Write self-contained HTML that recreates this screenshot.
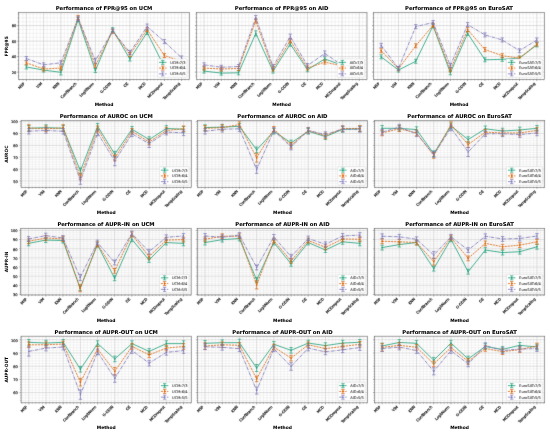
<!DOCTYPE html>
<html><head><meta charset="utf-8"><title>Performance</title><style>html,body{margin:0;padding:0;background:#fff;overflow:hidden}svg{display:block}</style></head><body>
<svg width="550" height="434" viewBox="0 0 550 434">
<style>text{font-family:"DejaVu Sans","Liberation Sans",sans-serif;fill:#111;stroke:#111;stroke-width:0.0px;text-rendering:geometricPrecision}.t{font-size:3.6px;fill:#1e1e1e;stroke:#1e1e1e;stroke-width:0.2px}.b{font-weight:bold;stroke-width:0.05px}.l{font-size:4.4px}.ti{font-size:5.3px}.mi{stroke:#e4e4e4;stroke-width:0.45;fill:none}.ma{stroke:#c8c8c8;stroke-width:0.6;fill:none}.sp{fill:none;stroke:#707070;stroke-width:0.65}.tk{stroke:#505050;stroke-width:0.5;fill:none}.mt{stroke:#505050;stroke-width:0.4;fill:none}.c0{stroke:#1b9e77}.c1{stroke:#d95f02}.c2{stroke:#7570b3}.f0{fill:#1b9e77}.f1{fill:#d95f02}.f2{fill:#7570b3}.ln{fill:none;stroke-width:0.8}.eb{fill:none;stroke-width:0.7}.d1{stroke-dasharray:2.1 0.9}.d2{stroke-dasharray:3.6 0.9 0.6 0.9}.tg text{fill:#000;stroke:#000;stroke-width:0.06px}.lt{font-size:3.62px;fill:#2a2a2a;stroke:#2a2a2a;stroke-width:0.07px}.lg{fill:#fff;fill-opacity:0.93;stroke:#d0d0d0;stroke-width:0.4}</style>
<filter id="bl" x="0" y="0" width="550" height="434" filterUnits="userSpaceOnUse" color-interpolation-filters="sRGB"><feConvolveMatrix order="3" kernelMatrix="0.015 0.06 0.015 0.06 0.7 0.06 0.015 0.06 0.015" edgeMode="duplicate" preserveAlpha="true"/></filter>
<g filter="url(#bl)">
<rect width="550" height="434" fill="#fff"/>
<path class="mi" d="M19.463 12.6V79.5M22.913 12.6V79.5M29.814 12.6V79.5M33.265 12.6V79.5M36.715 12.6V79.5M40.166 12.6V79.5M47.067 12.6V79.5M50.517 12.6V79.5M53.968 12.6V79.5M57.418 12.6V79.5M64.319 12.6V79.5M67.77 12.6V79.5M71.22 12.6V79.5M74.671 12.6V79.5M81.572 12.6V79.5M85.022 12.6V79.5M88.473 12.6V79.5M91.923 12.6V79.5M98.824 12.6V79.5M102.275 12.6V79.5M105.725 12.6V79.5M109.176 12.6V79.5M116.077 12.6V79.5M119.527 12.6V79.5M122.978 12.6V79.5M126.428 12.6V79.5M133.329 12.6V79.5M136.78 12.6V79.5M140.23 12.6V79.5M143.681 12.6V79.5M150.582 12.6V79.5M154.032 12.6V79.5M157.483 12.6V79.5M160.933 12.6V79.5M167.834 12.6V79.5M171.285 12.6V79.5M174.735 12.6V79.5M178.186 12.6V79.5M185.087 12.6V79.5M188.537 12.6V79.5M18.6 75.975H189.4M18.6 68.227H189.4M18.6 64.354H189.4M18.6 60.48H189.4M18.6 52.732H189.4M18.6 48.858H189.4M18.6 44.985H189.4M18.6 37.237H189.4M18.6 33.363H189.4M18.6 29.49H189.4M18.6 21.742H189.4M18.6 17.868H189.4M18.6 13.995H189.4"/>
<path class="ma" d="M26.364 12.6V79.5M43.616 12.6V79.5M60.869 12.6V79.5M78.121 12.6V79.5M95.374 12.6V79.5M112.626 12.6V79.5M129.879 12.6V79.5M147.131 12.6V79.5M164.384 12.6V79.5M181.636 12.6V79.5M18.6 72.101H189.4M18.6 56.606H189.4M18.6 41.111H189.4M18.6 25.616H189.4"/>
<path class="eb c0" d="M26.364 64.988V68.988M24.664 64.988h3.4M24.664 68.988h3.4M43.616 68.087V72.087M41.916 68.087h3.4M41.916 72.087h3.4M60.869 69.734V74.934M59.169 69.734h3.4M59.169 74.934h3.4M78.121 17.65V21.65M76.421 17.65h3.4M76.421 21.65h3.4M95.374 68.552V72.552M93.674 68.552h3.4M93.674 72.552h3.4M112.626 27.645V31.645M110.926 27.645h3.4M110.926 31.645h3.4M129.879 57.008V61.008M128.179 57.008h3.4M128.179 61.008h3.4M147.131 30.434V34.434M145.431 30.434h3.4M145.431 34.434h3.4M164.384 64.988V68.988M162.684 64.988h3.4M162.684 68.988h3.4M181.636 64.678V68.678M179.936 64.678h3.4M179.936 68.678h3.4"/>
<polyline class="ln c0" points="26.364,66.988 43.616,70.087 60.869,72.334 78.121,19.65 95.374,70.552 112.626,29.645 129.879,59.008 147.131,32.434 164.384,66.988 181.636,66.678"/>
<circle class="f0" cx="26.364" cy="66.988" r="0.8"/><circle class="f0" cx="43.616" cy="70.087" r="0.8"/><circle class="f0" cx="60.869" cy="72.334" r="0.8"/><circle class="f0" cx="78.121" cy="19.65" r="0.8"/><circle class="f0" cx="95.374" cy="70.552" r="0.8"/><circle class="f0" cx="112.626" cy="29.645" r="0.8"/><circle class="f0" cx="129.879" cy="59.008" r="0.8"/><circle class="f0" cx="147.131" cy="32.434" r="0.8"/><circle class="f0" cx="164.384" cy="66.988" r="0.8"/><circle class="f0" cx="181.636" cy="66.678" r="0.8"/>
<path class="eb c1" d="M26.364 60.804V64.804M24.664 60.804h3.4M24.664 64.804h3.4M43.616 67.002V71.002M41.916 67.002h3.4M41.916 71.002h3.4M60.869 66.072V70.072M59.169 66.072h3.4M59.169 70.072h3.4M78.121 15.558V19.558M76.421 15.558h3.4M76.421 19.558h3.4M95.374 63.593V67.593M93.674 63.593h3.4M93.674 67.593h3.4M112.626 29.349V33.349M110.926 29.349h3.4M110.926 33.349h3.4M129.879 52.514V56.514M128.179 52.514h3.4M128.179 56.514h3.4M147.131 27.645V31.645M145.431 27.645h3.4M145.431 31.645h3.4M164.384 53.521V57.521M162.684 53.521h3.4M162.684 57.521h3.4M181.636 59.487V63.487M179.936 59.487h3.4M179.936 63.487h3.4"/>
<polyline class="ln c1 d1" points="26.364,62.804 43.616,69.002 60.869,68.072 78.121,17.558 95.374,65.593 112.626,31.349 129.879,54.514 147.131,29.645 164.384,55.521 181.636,61.487"/>
<rect class="f1" x="25.644" y="62.084" width="1.44" height="1.44"/><rect class="f1" x="42.896" y="68.282" width="1.44" height="1.44"/><rect class="f1" x="60.149" y="67.352" width="1.44" height="1.44"/><rect class="f1" x="77.401" y="16.838" width="1.44" height="1.44"/><rect class="f1" x="94.654" y="64.873" width="1.44" height="1.44"/><rect class="f1" x="111.906" y="30.629" width="1.44" height="1.44"/><rect class="f1" x="129.159" y="53.794" width="1.44" height="1.44"/><rect class="f1" x="146.411" y="28.925" width="1.44" height="1.44"/><rect class="f1" x="163.664" y="54.801" width="1.44" height="1.44"/><rect class="f1" x="180.916" y="60.767" width="1.44" height="1.44"/>
<path class="eb c2" d="M26.364 56.543V60.543M24.664 56.543h3.4M24.664 60.543h3.4M43.616 62.818V66.818M41.916 62.818h3.4M41.916 66.818h3.4M60.869 60.804V64.804M59.169 60.804h3.4M59.169 64.804h3.4M78.121 16.333V20.333M76.421 16.333h3.4M76.421 20.333h3.4M95.374 58.212V63.212M93.674 58.212h3.4M93.674 63.212h3.4M112.626 28.807V32.807M110.926 28.807h3.4M110.926 32.807h3.4M129.879 50.422V54.422M128.179 50.422h3.4M128.179 54.422h3.4M147.131 24.023V29.223M145.431 24.023h3.4M145.431 29.223h3.4M164.384 39.576V43.576M162.684 39.576h3.4M162.684 43.576h3.4M181.636 55.923V59.923M179.936 55.923h3.4M179.936 59.923h3.4"/>
<polyline class="ln c2 d2" points="26.364,58.543 43.616,64.818 60.869,62.804 78.121,18.333 95.374,60.712 112.626,30.807 129.879,52.422 147.131,26.623 164.384,41.576 181.636,57.923"/>
<path class="f2" d="M26.364 57.623L27.204 59.143H25.524Z"/><path class="f2" d="M43.616 63.898L44.456 65.418H42.776Z"/><path class="f2" d="M60.869 61.884L61.709 63.404H60.029Z"/><path class="f2" d="M78.121 17.413L78.961 18.933H77.281Z"/><path class="f2" d="M95.374 59.792L96.214 61.312H94.534Z"/><path class="f2" d="M112.626 29.887L113.466 31.407H111.786Z"/><path class="f2" d="M129.879 51.502L130.719 53.022H129.039Z"/><path class="f2" d="M147.131 25.703L147.971 27.223H146.291Z"/><path class="f2" d="M164.384 40.656L165.224 42.176H163.544Z"/><path class="f2" d="M181.636 57.003L182.476 58.523H180.796Z"/>
<rect class="sp" x="18.6" y="12.6" width="170.8" height="66.9"/>
<path class="tk" d="M26.364 79.5v1.5M43.616 79.5v1.5M60.869 79.5v1.5M78.121 79.5v1.5M95.374 79.5v1.5M112.626 79.5v1.5M129.879 79.5v1.5M147.131 79.5v1.5M164.384 79.5v1.5M181.636 79.5v1.5M18.6 72.101h-1.5M18.6 56.606h-1.5M18.6 41.111h-1.5M18.6 25.616h-1.5"/>
<path class="mt" d="M19.463 79.5v0.9M22.913 79.5v0.9M29.814 79.5v0.9M33.265 79.5v0.9M36.715 79.5v0.9M40.166 79.5v0.9M47.067 79.5v0.9M50.517 79.5v0.9M53.968 79.5v0.9M57.418 79.5v0.9M64.319 79.5v0.9M67.77 79.5v0.9M71.22 79.5v0.9M74.671 79.5v0.9M81.572 79.5v0.9M85.022 79.5v0.9M88.473 79.5v0.9M91.923 79.5v0.9M98.824 79.5v0.9M102.275 79.5v0.9M105.725 79.5v0.9M109.176 79.5v0.9M116.077 79.5v0.9M119.527 79.5v0.9M122.978 79.5v0.9M126.428 79.5v0.9M133.329 79.5v0.9M136.78 79.5v0.9M140.23 79.5v0.9M143.681 79.5v0.9M150.582 79.5v0.9M154.032 79.5v0.9M157.483 79.5v0.9M160.933 79.5v0.9M167.834 79.5v0.9M171.285 79.5v0.9M174.735 79.5v0.9M178.186 79.5v0.9M185.087 79.5v0.9M188.537 79.5v0.9M18.6 75.975h-0.9M18.6 68.227h-0.9M18.6 64.354h-0.9M18.6 60.48h-0.9M18.6 52.732h-0.9M18.6 48.858h-0.9M18.6 44.985h-0.9M18.6 37.237h-0.9M18.6 33.363h-0.9M18.6 29.49h-0.9M18.6 21.742h-0.9M18.6 17.868h-0.9M18.6 13.995h-0.9"/>
<text class="t" x="16.3" y="73.601" text-anchor="end">20</text>
<text class="t" x="16.3" y="58.106" text-anchor="end">40</text>
<text class="t" x="16.3" y="42.611" text-anchor="end">60</text>
<text class="t" x="16.3" y="27.116" text-anchor="end">80</text>
<text class="t" transform="translate(25.164 83.9) rotate(-45)" text-anchor="end">MSP</text>
<text class="t" transform="translate(42.416 83.9) rotate(-45)" text-anchor="end">ViM</text>
<text class="t" transform="translate(59.669 83.9) rotate(-45)" text-anchor="end">KNN</text>
<text class="t" transform="translate(76.921 83.9) rotate(-45)" text-anchor="end">ConfBranch</text>
<text class="t" transform="translate(94.174 83.9) rotate(-45)" text-anchor="end">LogitNorm</text>
<text class="t" transform="translate(111.426 83.9) rotate(-45)" text-anchor="end">G-ODIN</text>
<text class="t" transform="translate(128.679 83.9) rotate(-45)" text-anchor="end">OE</text>
<text class="t" transform="translate(145.931 83.9) rotate(-45)" text-anchor="end">MCD</text>
<text class="t" transform="translate(163.184 83.9) rotate(-45)" text-anchor="end">MCDropout</text>
<text class="t" transform="translate(180.436 83.9) rotate(-45)" text-anchor="end">TempScaling</text>
<rect class="lg" x="157.667" y="58.9" width="29.433" height="18.4" rx="0.6"/>
<path class="ln c0" d="M159.067 62.35H166.467"/>
<path class="eb c0" d="M162.767 60.35V64.35M161.067 60.35h3.4M161.067 64.35h3.4"/>
<circle class="f0" cx="162.767" cy="62.35" r="0.8"/>
<text class="lt" x="170.167" y="63.7">UCM-7/3</text>
<path class="ln c1 d1" d="M159.067 68.1H166.467"/>
<path class="eb c1" d="M162.767 66.1V70.1M161.067 66.1h3.4M161.067 70.1h3.4"/>
<rect class="f1" x="162.047" y="67.38" width="1.44" height="1.44"/>
<text class="lt" x="170.167" y="69.45">UCM-6/4</text>
<path class="ln c2 d2" d="M159.067 73.85H166.467"/>
<path class="eb c2" d="M162.767 71.85V75.85M161.067 71.85h3.4M161.067 75.85h3.4"/>
<path class="f2" d="M162.767 72.93L163.607 74.45H161.927Z"/>
<text class="lt" x="170.167" y="75.2">UCM-5/5</text>
<path class="mi" d="M197.162 12.6V79.5M200.611 12.6V79.5M207.508 12.6V79.5M210.956 12.6V79.5M214.405 12.6V79.5M217.853 12.6V79.5M224.75 12.6V79.5M228.198 12.6V79.5M231.647 12.6V79.5M235.095 12.6V79.5M241.992 12.6V79.5M245.441 12.6V79.5M248.889 12.6V79.5M252.338 12.6V79.5M259.235 12.6V79.5M262.683 12.6V79.5M266.132 12.6V79.5M269.58 12.6V79.5M276.477 12.6V79.5M279.926 12.6V79.5M283.374 12.6V79.5M286.823 12.6V79.5M293.72 12.6V79.5M297.168 12.6V79.5M300.617 12.6V79.5M304.065 12.6V79.5M310.962 12.6V79.5M314.411 12.6V79.5M317.859 12.6V79.5M321.308 12.6V79.5M328.205 12.6V79.5M331.653 12.6V79.5M335.102 12.6V79.5M338.55 12.6V79.5M345.447 12.6V79.5M348.895 12.6V79.5M352.344 12.6V79.5M355.792 12.6V79.5M362.689 12.6V79.5M366.138 12.6V79.5M196.3 75.975H367M196.3 68.227H367M196.3 64.354H367M196.3 60.48H367M196.3 52.732H367M196.3 48.858H367M196.3 44.985H367M196.3 37.237H367M196.3 33.363H367M196.3 29.49H367M196.3 21.742H367M196.3 17.868H367M196.3 13.995H367"/>
<path class="ma" d="M204.059 12.6V79.5M221.302 12.6V79.5M238.544 12.6V79.5M255.786 12.6V79.5M273.029 12.6V79.5M290.271 12.6V79.5M307.514 12.6V79.5M324.756 12.6V79.5M341.998 12.6V79.5M359.241 12.6V79.5M196.3 72.101H367M196.3 56.606H367M196.3 41.111H367M196.3 25.616H367"/>
<path class="eb c0" d="M204.059 69.094V73.094M202.359 69.094h3.4M202.359 73.094h3.4M221.302 71.108V75.108M219.602 71.108h3.4M219.602 75.108h3.4M238.544 70.798V74.798M236.844 70.798h3.4M236.844 74.798h3.4M255.786 30.863V35.863M254.086 30.863h3.4M254.086 35.863h3.4M273.029 69.094V73.094M271.329 69.094h3.4M271.329 73.094h3.4M290.271 42.132V46.132M288.571 42.132h3.4M288.571 46.132h3.4M307.514 67.777V71.777M305.814 67.777h3.4M305.814 71.777h3.4M324.756 56.93V60.93M323.056 56.93h3.4M323.056 60.93h3.4M341.998 63.128V67.128M340.298 63.128h3.4M340.298 67.128h3.4M359.241 63.903V67.903M357.541 63.903h3.4M357.541 67.903h3.4"/>
<polyline class="ln c0" points="204.059,71.094 221.302,73.108 238.544,72.798 255.786,33.363 273.029,71.094 290.271,44.132 307.514,69.777 324.756,58.93 341.998,65.128 359.241,65.903"/>
<circle class="f0" cx="204.059" cy="71.094" r="0.8"/><circle class="f0" cx="221.302" cy="73.108" r="0.8"/><circle class="f0" cx="238.544" cy="72.798" r="0.8"/><circle class="f0" cx="255.786" cy="33.363" r="0.8"/><circle class="f0" cx="273.029" cy="71.094" r="0.8"/><circle class="f0" cx="290.271" cy="44.132" r="0.8"/><circle class="f0" cx="307.514" cy="69.777" r="0.8"/><circle class="f0" cx="324.756" cy="58.93" r="0.8"/><circle class="f0" cx="341.998" cy="65.128" r="0.8"/><circle class="f0" cx="359.241" cy="65.903" r="0.8"/>
<path class="eb c1" d="M204.059 66.072V70.072M202.359 66.072h3.4M202.359 70.072h3.4M221.302 67.002V71.002M219.602 67.002h3.4M219.602 71.002h3.4M238.544 66.537V70.537M236.844 66.537h3.4M236.844 70.537h3.4M255.786 18.812V22.812M254.086 18.812h3.4M254.086 22.812h3.4M273.029 67.002V71.002M271.329 67.002h3.4M271.329 71.002h3.4M290.271 38.724V42.724M288.571 38.724h3.4M288.571 42.724h3.4M307.514 66.072V70.072M305.814 66.072h3.4M305.814 70.072h3.4M324.756 60.107V64.107M323.056 60.107h3.4M323.056 64.107h3.4M341.998 63.903V67.903M340.298 63.903h3.4M340.298 67.903h3.4M359.241 64.678V68.678M357.541 64.678h3.4M357.541 68.678h3.4"/>
<polyline class="ln c1 d1" points="204.059,68.072 221.302,69.002 238.544,68.537 255.786,20.812 273.029,69.002 290.271,40.724 307.514,68.072 324.756,62.107 341.998,65.903 359.241,66.678"/>
<rect class="f1" x="203.339" y="67.352" width="1.44" height="1.44"/><rect class="f1" x="220.582" y="68.282" width="1.44" height="1.44"/><rect class="f1" x="237.824" y="67.817" width="1.44" height="1.44"/><rect class="f1" x="255.066" y="20.092" width="1.44" height="1.44"/><rect class="f1" x="272.309" y="68.282" width="1.44" height="1.44"/><rect class="f1" x="289.551" y="40.004" width="1.44" height="1.44"/><rect class="f1" x="306.794" y="67.352" width="1.44" height="1.44"/><rect class="f1" x="324.036" y="61.387" width="1.44" height="1.44"/><rect class="f1" x="341.278" y="65.183" width="1.44" height="1.44"/><rect class="f1" x="358.521" y="65.958" width="1.44" height="1.44"/>
<path class="eb c2" d="M204.059 62.818V66.818M202.359 62.818h3.4M202.359 66.818h3.4M221.302 65.298V69.298M219.602 65.298h3.4M219.602 69.298h3.4M238.544 64.523V68.523M236.844 64.523h3.4M236.844 68.523h3.4M255.786 15.558V19.558M254.086 15.558h3.4M254.086 19.558h3.4M273.029 64.523V68.523M271.329 64.523h3.4M271.329 68.523h3.4M290.271 34.117V39.117M288.571 34.117h3.4M288.571 39.117h3.4M307.514 63.593V67.593M305.814 63.593h3.4M305.814 67.593h3.4M324.756 50.93V55.93M323.056 50.93h3.4M323.056 55.93h3.4M341.998 63.128V67.128M340.298 63.128h3.4M340.298 67.128h3.4M359.241 63.903V67.903M357.541 63.903h3.4M357.541 67.903h3.4"/>
<polyline class="ln c2 d2" points="204.059,64.818 221.302,67.298 238.544,66.523 255.786,17.558 273.029,66.523 290.271,36.617 307.514,65.593 324.756,53.43 341.998,65.128 359.241,65.903"/>
<path class="f2" d="M204.059 63.898L204.899 65.418H203.219Z"/><path class="f2" d="M221.302 66.378L222.142 67.898H220.462Z"/><path class="f2" d="M238.544 65.603L239.384 67.123H237.704Z"/><path class="f2" d="M255.786 16.638L256.626 18.158H254.946Z"/><path class="f2" d="M273.029 65.603L273.869 67.123H272.189Z"/><path class="f2" d="M290.271 35.697L291.111 37.217H289.431Z"/><path class="f2" d="M307.514 64.673L308.354 66.193H306.674Z"/><path class="f2" d="M324.756 52.51L325.596 54.03H323.916Z"/><path class="f2" d="M341.998 64.208L342.838 65.728H341.158Z"/><path class="f2" d="M359.241 64.983L360.081 66.503H358.401Z"/>
<rect class="sp" x="196.3" y="12.6" width="170.7" height="66.9"/>
<path class="tk" d="M204.059 79.5v1.5M221.302 79.5v1.5M238.544 79.5v1.5M255.786 79.5v1.5M273.029 79.5v1.5M290.271 79.5v1.5M307.514 79.5v1.5M324.756 79.5v1.5M341.998 79.5v1.5M359.241 79.5v1.5M196.3 72.101h-1.5M196.3 56.606h-1.5M196.3 41.111h-1.5M196.3 25.616h-1.5"/>
<path class="mt" d="M197.162 79.5v0.9M200.611 79.5v0.9M207.508 79.5v0.9M210.956 79.5v0.9M214.405 79.5v0.9M217.853 79.5v0.9M224.75 79.5v0.9M228.198 79.5v0.9M231.647 79.5v0.9M235.095 79.5v0.9M241.992 79.5v0.9M245.441 79.5v0.9M248.889 79.5v0.9M252.338 79.5v0.9M259.235 79.5v0.9M262.683 79.5v0.9M266.132 79.5v0.9M269.58 79.5v0.9M276.477 79.5v0.9M279.926 79.5v0.9M283.374 79.5v0.9M286.823 79.5v0.9M293.72 79.5v0.9M297.168 79.5v0.9M300.617 79.5v0.9M304.065 79.5v0.9M310.962 79.5v0.9M314.411 79.5v0.9M317.859 79.5v0.9M321.308 79.5v0.9M328.205 79.5v0.9M331.653 79.5v0.9M335.102 79.5v0.9M338.55 79.5v0.9M345.447 79.5v0.9M348.895 79.5v0.9M352.344 79.5v0.9M355.792 79.5v0.9M362.689 79.5v0.9M366.138 79.5v0.9M196.3 75.975h-0.9M196.3 68.227h-0.9M196.3 64.354h-0.9M196.3 60.48h-0.9M196.3 52.732h-0.9M196.3 48.858h-0.9M196.3 44.985h-0.9M196.3 37.237h-0.9M196.3 33.363h-0.9M196.3 29.49h-0.9M196.3 21.742h-0.9M196.3 17.868h-0.9M196.3 13.995h-0.9"/>
<text class="t" transform="translate(202.859 83.9) rotate(-45)" text-anchor="end">MSP</text>
<text class="t" transform="translate(220.102 83.9) rotate(-45)" text-anchor="end">ViM</text>
<text class="t" transform="translate(237.344 83.9) rotate(-45)" text-anchor="end">KNN</text>
<text class="t" transform="translate(254.586 83.9) rotate(-45)" text-anchor="end">ConfBranch</text>
<text class="t" transform="translate(271.829 83.9) rotate(-45)" text-anchor="end">LogitNorm</text>
<text class="t" transform="translate(289.071 83.9) rotate(-45)" text-anchor="end">G-ODIN</text>
<text class="t" transform="translate(306.314 83.9) rotate(-45)" text-anchor="end">OE</text>
<text class="t" transform="translate(323.556 83.9) rotate(-45)" text-anchor="end">MCD</text>
<text class="t" transform="translate(340.798 83.9) rotate(-45)" text-anchor="end">MCDropout</text>
<text class="t" transform="translate(358.041 83.9) rotate(-45)" text-anchor="end">TempScaling</text>
<rect class="lg" x="337.236" y="58.9" width="27.464" height="18.4" rx="0.6"/>
<path class="ln c0" d="M338.636 62.35H346.036"/>
<path class="eb c0" d="M342.336 60.35V64.35M340.636 60.35h3.4M340.636 64.35h3.4"/>
<circle class="f0" cx="342.336" cy="62.35" r="0.8"/>
<text class="lt" x="349.736" y="63.7">AID-7/3</text>
<path class="ln c1 d1" d="M338.636 68.1H346.036"/>
<path class="eb c1" d="M342.336 66.1V70.1M340.636 66.1h3.4M340.636 70.1h3.4"/>
<rect class="f1" x="341.616" y="67.38" width="1.44" height="1.44"/>
<text class="lt" x="349.736" y="69.45">AID-6/4</text>
<path class="ln c2 d2" d="M338.636 73.85H346.036"/>
<path class="eb c2" d="M342.336 71.85V75.85M340.636 71.85h3.4M340.636 75.85h3.4"/>
<path class="f2" d="M342.336 72.93L343.176 74.45H341.496Z"/>
<text class="lt" x="349.736" y="75.2">AID-5/5</text>
<path class="mi" d="M374.265 12.6V79.5M377.723 12.6V79.5M384.64 12.6V79.5M388.099 12.6V79.5M391.558 12.6V79.5M395.016 12.6V79.5M401.933 12.6V79.5M405.392 12.6V79.5M408.851 12.6V79.5M412.309 12.6V79.5M419.226 12.6V79.5M422.685 12.6V79.5M426.143 12.6V79.5M429.602 12.6V79.5M436.519 12.6V79.5M439.978 12.6V79.5M443.436 12.6V79.5M446.895 12.6V79.5M453.812 12.6V79.5M457.271 12.6V79.5M460.729 12.6V79.5M464.188 12.6V79.5M471.105 12.6V79.5M474.564 12.6V79.5M478.022 12.6V79.5M481.481 12.6V79.5M488.398 12.6V79.5M491.857 12.6V79.5M495.315 12.6V79.5M498.774 12.6V79.5M505.691 12.6V79.5M509.149 12.6V79.5M512.608 12.6V79.5M516.067 12.6V79.5M522.984 12.6V79.5M526.442 12.6V79.5M529.901 12.6V79.5M533.36 12.6V79.5M540.277 12.6V79.5M543.735 12.6V79.5M373.4 75.975H544.6M373.4 68.227H544.6M373.4 64.354H544.6M373.4 60.48H544.6M373.4 52.732H544.6M373.4 48.858H544.6M373.4 44.985H544.6M373.4 37.237H544.6M373.4 33.363H544.6M373.4 29.49H544.6M373.4 21.742H544.6M373.4 17.868H544.6M373.4 13.995H544.6"/>
<path class="ma" d="M381.182 12.6V79.5M398.475 12.6V79.5M415.768 12.6V79.5M433.061 12.6V79.5M450.354 12.6V79.5M467.646 12.6V79.5M484.939 12.6V79.5M502.232 12.6V79.5M519.525 12.6V79.5M536.818 12.6V79.5M373.4 72.101H544.6M373.4 56.606H544.6M373.4 41.111H544.6M373.4 25.616H544.6"/>
<path class="eb c0" d="M381.182 54.838V58.838M379.482 54.838h3.4M379.482 58.838h3.4M398.475 68.087V72.087M396.775 68.087h3.4M396.775 72.087h3.4M415.768 59.255V63.255M414.068 59.255h3.4M414.068 63.255h3.4M433.061 23.848V27.848M431.361 23.848h3.4M431.361 27.848h3.4M450.354 70.798V74.798M448.654 70.798h3.4M448.654 74.798h3.4M467.646 31.363V35.363M465.946 31.363h3.4M465.946 35.363h3.4M484.939 57.783V61.783M483.239 57.783h3.4M483.239 61.783h3.4M502.232 57.318V61.318M500.532 57.318h3.4M500.532 61.318h3.4M519.525 56.156V60.156M517.825 56.156h3.4M517.825 60.156h3.4M536.818 42.907V46.907M535.118 42.907h3.4M535.118 46.907h3.4"/>
<polyline class="ln c0" points="381.182,56.838 398.475,70.087 415.768,61.255 433.061,25.848 450.354,72.798 467.646,33.363 484.939,59.783 502.232,59.318 519.525,58.156 536.818,44.907"/>
<circle class="f0" cx="381.182" cy="56.838" r="0.8"/><circle class="f0" cx="398.475" cy="70.087" r="0.8"/><circle class="f0" cx="415.768" cy="61.255" r="0.8"/><circle class="f0" cx="433.061" cy="25.848" r="0.8"/><circle class="f0" cx="450.354" cy="72.798" r="0.8"/><circle class="f0" cx="467.646" cy="33.363" r="0.8"/><circle class="f0" cx="484.939" cy="59.783" r="0.8"/><circle class="f0" cx="502.232" cy="59.318" r="0.8"/><circle class="f0" cx="519.525" cy="58.156" r="0.8"/><circle class="f0" cx="536.818" cy="44.907" r="0.8"/>
<path class="eb c1" d="M381.182 48.718V52.718M379.482 48.718h3.4M379.482 52.718h3.4M398.475 66.77V70.77M396.775 66.77h3.4M396.775 70.77h3.4M415.768 43.759V47.759M414.068 43.759h3.4M414.068 47.759h3.4M433.061 23.306V27.306M431.361 23.306h3.4M431.361 27.306h3.4M450.354 67.777V71.777M448.654 67.777h3.4M448.654 71.777h3.4M467.646 27.645V31.645M465.946 27.645h3.4M465.946 31.645h3.4M484.939 47.556V51.556M483.239 47.556h3.4M483.239 51.556h3.4M502.232 53.676V57.676M500.532 53.676h3.4M500.532 57.676h3.4M519.525 56.156V60.156M517.825 56.156h3.4M517.825 60.156h3.4M536.818 42.132V46.132M535.118 42.132h3.4M535.118 46.132h3.4"/>
<polyline class="ln c1 d1" points="381.182,50.718 398.475,68.77 415.768,45.759 433.061,25.306 450.354,69.777 467.646,29.645 484.939,49.556 502.232,55.676 519.525,58.156 536.818,44.132"/>
<rect class="f1" x="380.462" y="49.998" width="1.44" height="1.44"/><rect class="f1" x="397.755" y="68.05" width="1.44" height="1.44"/><rect class="f1" x="415.048" y="45.039" width="1.44" height="1.44"/><rect class="f1" x="432.341" y="24.586" width="1.44" height="1.44"/><rect class="f1" x="449.634" y="69.057" width="1.44" height="1.44"/><rect class="f1" x="466.926" y="28.925" width="1.44" height="1.44"/><rect class="f1" x="484.219" y="48.836" width="1.44" height="1.44"/><rect class="f1" x="501.512" y="54.956" width="1.44" height="1.44"/><rect class="f1" x="518.805" y="57.436" width="1.44" height="1.44"/><rect class="f1" x="536.098" y="43.412" width="1.44" height="1.44"/>
<path class="eb c2" d="M381.182 43.372V47.372M379.482 43.372h3.4M379.482 47.372h3.4M398.475 66.46V70.46M396.775 66.46h3.4M396.775 70.46h3.4M415.768 24.623V28.623M414.068 24.623h3.4M414.068 28.623h3.4M433.061 20.517V24.517M431.361 20.517h3.4M431.361 24.517h3.4M450.354 63.593V67.593M448.654 63.593h3.4M448.654 67.593h3.4M467.646 22.609V26.609M465.946 22.609h3.4M465.946 26.609h3.4M484.939 32.913V36.913M483.239 32.913h3.4M483.239 36.913h3.4M502.232 37.949V41.949M500.532 37.949h3.4M500.532 41.949h3.4M519.525 48.718V52.718M517.825 48.718h3.4M517.825 52.718h3.4M536.818 37.949V41.949M535.118 37.949h3.4M535.118 41.949h3.4"/>
<polyline class="ln c2 d2" points="381.182,45.372 398.475,68.46 415.768,26.623 433.061,22.517 450.354,65.593 467.646,24.609 484.939,34.913 502.232,39.949 519.525,50.718 536.818,39.949"/>
<path class="f2" d="M381.182 44.452L382.022 45.972H380.342Z"/><path class="f2" d="M398.475 67.54L399.315 69.06H397.635Z"/><path class="f2" d="M415.768 25.703L416.608 27.223H414.928Z"/><path class="f2" d="M433.061 21.597L433.901 23.117H432.221Z"/><path class="f2" d="M450.354 64.673L451.194 66.193H449.514Z"/><path class="f2" d="M467.646 23.689L468.486 25.209H466.806Z"/><path class="f2" d="M484.939 33.993L485.779 35.513H484.099Z"/><path class="f2" d="M502.232 39.029L503.072 40.549H501.392Z"/><path class="f2" d="M519.525 49.798L520.365 51.318H518.685Z"/><path class="f2" d="M536.818 39.029L537.658 40.549H535.978Z"/>
<rect class="sp" x="373.4" y="12.6" width="171.2" height="66.9"/>
<path class="tk" d="M381.182 79.5v1.5M398.475 79.5v1.5M415.768 79.5v1.5M433.061 79.5v1.5M450.354 79.5v1.5M467.646 79.5v1.5M484.939 79.5v1.5M502.232 79.5v1.5M519.525 79.5v1.5M536.818 79.5v1.5M373.4 72.101h-1.5M373.4 56.606h-1.5M373.4 41.111h-1.5M373.4 25.616h-1.5"/>
<path class="mt" d="M374.265 79.5v0.9M377.723 79.5v0.9M384.64 79.5v0.9M388.099 79.5v0.9M391.558 79.5v0.9M395.016 79.5v0.9M401.933 79.5v0.9M405.392 79.5v0.9M408.851 79.5v0.9M412.309 79.5v0.9M419.226 79.5v0.9M422.685 79.5v0.9M426.143 79.5v0.9M429.602 79.5v0.9M436.519 79.5v0.9M439.978 79.5v0.9M443.436 79.5v0.9M446.895 79.5v0.9M453.812 79.5v0.9M457.271 79.5v0.9M460.729 79.5v0.9M464.188 79.5v0.9M471.105 79.5v0.9M474.564 79.5v0.9M478.022 79.5v0.9M481.481 79.5v0.9M488.398 79.5v0.9M491.857 79.5v0.9M495.315 79.5v0.9M498.774 79.5v0.9M505.691 79.5v0.9M509.149 79.5v0.9M512.608 79.5v0.9M516.067 79.5v0.9M522.984 79.5v0.9M526.442 79.5v0.9M529.901 79.5v0.9M533.36 79.5v0.9M540.277 79.5v0.9M543.735 79.5v0.9M373.4 75.975h-0.9M373.4 68.227h-0.9M373.4 64.354h-0.9M373.4 60.48h-0.9M373.4 52.732h-0.9M373.4 48.858h-0.9M373.4 44.985h-0.9M373.4 37.237h-0.9M373.4 33.363h-0.9M373.4 29.49h-0.9M373.4 21.742h-0.9M373.4 17.868h-0.9M373.4 13.995h-0.9"/>
<text class="t" transform="translate(379.982 83.9) rotate(-45)" text-anchor="end">MSP</text>
<text class="t" transform="translate(397.275 83.9) rotate(-45)" text-anchor="end">ViM</text>
<text class="t" transform="translate(414.568 83.9) rotate(-45)" text-anchor="end">KNN</text>
<text class="t" transform="translate(431.861 83.9) rotate(-45)" text-anchor="end">ConfBranch</text>
<text class="t" transform="translate(449.154 83.9) rotate(-45)" text-anchor="end">LogitNorm</text>
<text class="t" transform="translate(466.446 83.9) rotate(-45)" text-anchor="end">G-ODIN</text>
<text class="t" transform="translate(483.739 83.9) rotate(-45)" text-anchor="end">OE</text>
<text class="t" transform="translate(501.032 83.9) rotate(-45)" text-anchor="end">MCD</text>
<text class="t" transform="translate(518.325 83.9) rotate(-45)" text-anchor="end">MCDropout</text>
<text class="t" transform="translate(535.618 83.9) rotate(-45)" text-anchor="end">TempScaling</text>
<rect class="lg" x="506.523" y="58.9" width="35.777" height="18.4" rx="0.6"/>
<path class="ln c0" d="M507.923 62.35H515.323"/>
<path class="eb c0" d="M511.623 60.35V64.35M509.923 60.35h3.4M509.923 64.35h3.4"/>
<circle class="f0" cx="511.623" cy="62.35" r="0.8"/>
<text class="lt" x="519.023" y="63.7">EuroSAT-7/3</text>
<path class="ln c1 d1" d="M507.923 68.1H515.323"/>
<path class="eb c1" d="M511.623 66.1V70.1M509.923 66.1h3.4M509.923 70.1h3.4"/>
<rect class="f1" x="510.903" y="67.38" width="1.44" height="1.44"/>
<text class="lt" x="519.023" y="69.45">EuroSAT-6/4</text>
<path class="ln c2 d2" d="M507.923 73.85H515.323"/>
<path class="eb c2" d="M511.623 71.85V75.85M509.923 71.85h3.4M509.923 75.85h3.4"/>
<path class="f2" d="M511.623 72.93L512.463 74.45H510.783Z"/>
<text class="lt" x="519.023" y="75.2">EuroSAT-5/5</text>
<path class="mi" d="M21.96 120.5V187.3M25.398 120.5V187.3M32.275 120.5V187.3M35.713 120.5V187.3M39.152 120.5V187.3M42.59 120.5V187.3M49.467 120.5V187.3M52.905 120.5V187.3M56.343 120.5V187.3M59.782 120.5V187.3M66.659 120.5V187.3M70.097 120.5V187.3M73.535 120.5V187.3M76.974 120.5V187.3M83.851 120.5V187.3M87.289 120.5V187.3M90.727 120.5V187.3M94.166 120.5V187.3M101.042 120.5V187.3M104.481 120.5V187.3M107.919 120.5V187.3M111.358 120.5V187.3M118.234 120.5V187.3M121.673 120.5V187.3M125.111 120.5V187.3M128.549 120.5V187.3M135.426 120.5V187.3M138.865 120.5V187.3M142.303 120.5V187.3M145.741 120.5V187.3M152.618 120.5V187.3M156.057 120.5V187.3M159.495 120.5V187.3M162.933 120.5V187.3M169.81 120.5V187.3M173.248 120.5V187.3M176.687 120.5V187.3M180.125 120.5V187.3M187.002 120.5V187.3M190.44 120.5V187.3M21.1 185.642H191.3M21.1 183.273H191.3M21.1 178.535H191.3M21.1 176.167H191.3M21.1 173.798H191.3M21.1 171.429H191.3M21.1 166.691H191.3M21.1 164.323H191.3M21.1 161.954H191.3M21.1 159.585H191.3M21.1 154.848H191.3M21.1 152.479H191.3M21.1 150.11H191.3M21.1 147.741H191.3M21.1 143.004H191.3M21.1 140.635H191.3M21.1 138.266H191.3M21.1 135.897H191.3M21.1 131.16H191.3M21.1 128.791H191.3M21.1 126.422H191.3M21.1 124.053H191.3"/>
<path class="ma" d="M28.836 120.5V187.3M46.028 120.5V187.3M63.22 120.5V187.3M80.412 120.5V187.3M97.604 120.5V187.3M114.796 120.5V187.3M131.988 120.5V187.3M149.18 120.5V187.3M166.372 120.5V187.3M183.564 120.5V187.3M21.1 180.904H191.3M21.1 169.06H191.3M21.1 157.216H191.3M21.1 145.372H191.3M21.1 133.528H191.3M21.1 121.684H191.3"/>
<path class="eb c0" d="M28.836 125.517V131.117M27.136 125.517h3.4M27.136 131.117h3.4M46.028 124.806V130.406M44.328 124.806h3.4M44.328 130.406h3.4M63.22 125.517V131.117M61.52 125.517h3.4M61.52 131.117h3.4M80.412 168.037V173.637M78.712 168.037h3.4M78.712 173.637h3.4M97.604 123.504V129.104M95.904 123.504h3.4M95.904 129.104h3.4M114.796 151.337V156.937M113.096 151.337h3.4M113.096 156.937h3.4M131.988 126.465V132.065M130.288 126.465h3.4M130.288 132.065h3.4M149.18 136.769V142.369M147.48 136.769h3.4M147.48 142.369h3.4M166.372 125.635V131.235M164.672 125.635h3.4M164.672 131.235h3.4M183.564 126.465V132.065M181.864 126.465h3.4M181.864 132.065h3.4"/>
<polyline class="ln c0" points="28.836,128.317 46.028,127.606 63.22,128.317 80.412,170.837 97.604,126.304 114.796,154.137 131.988,129.265 149.18,139.569 166.372,128.435 183.564,129.265"/>
<circle class="f0" cx="28.836" cy="128.317" r="0.8"/><circle class="f0" cx="46.028" cy="127.606" r="0.8"/><circle class="f0" cx="63.22" cy="128.317" r="0.8"/><circle class="f0" cx="80.412" cy="170.837" r="0.8"/><circle class="f0" cx="97.604" cy="126.304" r="0.8"/><circle class="f0" cx="114.796" cy="154.137" r="0.8"/><circle class="f0" cx="131.988" cy="129.265" r="0.8"/><circle class="f0" cx="149.18" cy="139.569" r="0.8"/><circle class="f0" cx="166.372" cy="128.435" r="0.8"/><circle class="f0" cx="183.564" cy="129.265" r="0.8"/>
<path class="eb c1" d="M28.836 124.662V131.262M27.136 124.662h3.4M27.136 131.262h3.4M46.028 125.991V131.591M44.328 125.991h3.4M44.328 131.591h3.4M63.22 124.662V131.262M61.52 124.662h3.4M61.52 131.262h3.4M80.412 174.196V179.796M78.712 174.196h3.4M78.712 179.796h3.4M97.604 125.991V131.591M95.904 125.991h3.4M95.904 131.591h3.4M114.796 155.127V160.727M113.096 155.127h3.4M113.096 160.727h3.4M131.988 128.478V134.078M130.288 128.478h3.4M130.288 134.078h3.4M149.18 139.256V144.856M147.48 139.256h3.4M147.48 144.856h3.4M166.372 127.649V133.249M164.672 127.649h3.4M164.672 133.249h3.4M183.564 125.991V131.591M181.864 125.991h3.4M181.864 131.591h3.4"/>
<polyline class="ln c1 d1" points="28.836,127.962 46.028,128.791 63.22,127.962 80.412,176.996 97.604,128.791 114.796,157.927 131.988,131.278 149.18,142.056 166.372,130.449 183.564,128.791"/>
<rect class="f1" x="28.116" y="127.242" width="1.44" height="1.44"/><rect class="f1" x="45.308" y="128.071" width="1.44" height="1.44"/><rect class="f1" x="62.5" y="127.242" width="1.44" height="1.44"/><rect class="f1" x="79.692" y="176.276" width="1.44" height="1.44"/><rect class="f1" x="96.884" y="128.071" width="1.44" height="1.44"/><rect class="f1" x="114.076" y="157.207" width="1.44" height="1.44"/><rect class="f1" x="131.268" y="130.558" width="1.44" height="1.44"/><rect class="f1" x="148.46" y="141.336" width="1.44" height="1.44"/><rect class="f1" x="165.652" y="129.729" width="1.44" height="1.44"/><rect class="f1" x="182.844" y="128.071" width="1.44" height="1.44"/>
<path class="eb c2" d="M28.836 128.36V133.96M27.136 128.36h3.4M27.136 133.96h3.4M46.028 127.649V133.249M44.328 127.649h3.4M44.328 133.249h3.4M63.22 128.478V134.078M61.52 128.478h3.4M61.52 134.078h3.4M80.412 177.286V184.286M78.712 177.286h3.4M78.712 184.286h3.4M97.604 130.136V135.736M95.904 130.136h3.4M95.904 135.736h3.4M114.796 156.743V165.743M113.096 156.743h3.4M113.096 165.743h3.4M131.988 130.965V136.565M130.288 130.965h3.4M130.288 136.565h3.4M149.18 139.914V147.514M147.48 139.914h3.4M147.48 147.514h3.4M166.372 129.307V134.907M164.672 129.307h3.4M164.672 134.907h3.4M183.564 130.018V135.618M181.864 130.018h3.4M181.864 135.618h3.4"/>
<polyline class="ln c2 d2" points="28.836,131.16 46.028,130.449 63.22,131.278 80.412,180.786 97.604,132.936 114.796,161.243 131.988,133.765 149.18,143.714 166.372,132.107 183.564,132.818"/>
<path class="f2" d="M28.836 130.24L29.676 131.76H27.996Z"/><path class="f2" d="M46.028 129.529L46.868 131.049H45.188Z"/><path class="f2" d="M63.22 130.358L64.06 131.878H62.38Z"/><path class="f2" d="M80.412 179.866L81.252 181.386H79.572Z"/><path class="f2" d="M97.604 132.016L98.444 133.536H96.764Z"/><path class="f2" d="M114.796 160.323L115.636 161.843H113.956Z"/><path class="f2" d="M131.988 132.845L132.828 134.365H131.148Z"/><path class="f2" d="M149.18 142.794L150.02 144.314H148.34Z"/><path class="f2" d="M166.372 131.187L167.212 132.707H165.532Z"/><path class="f2" d="M183.564 131.898L184.404 133.418H182.724Z"/>
<rect class="sp" x="21.1" y="120.5" width="170.2" height="66.8"/>
<path class="tk" d="M28.836 187.3v1.5M46.028 187.3v1.5M63.22 187.3v1.5M80.412 187.3v1.5M97.604 187.3v1.5M114.796 187.3v1.5M131.988 187.3v1.5M149.18 187.3v1.5M166.372 187.3v1.5M183.564 187.3v1.5M21.1 180.904h-1.5M21.1 169.06h-1.5M21.1 157.216h-1.5M21.1 145.372h-1.5M21.1 133.528h-1.5M21.1 121.684h-1.5"/>
<path class="mt" d="M21.96 187.3v0.9M25.398 187.3v0.9M32.275 187.3v0.9M35.713 187.3v0.9M39.152 187.3v0.9M42.59 187.3v0.9M49.467 187.3v0.9M52.905 187.3v0.9M56.343 187.3v0.9M59.782 187.3v0.9M66.659 187.3v0.9M70.097 187.3v0.9M73.535 187.3v0.9M76.974 187.3v0.9M83.851 187.3v0.9M87.289 187.3v0.9M90.727 187.3v0.9M94.166 187.3v0.9M101.042 187.3v0.9M104.481 187.3v0.9M107.919 187.3v0.9M111.358 187.3v0.9M118.234 187.3v0.9M121.673 187.3v0.9M125.111 187.3v0.9M128.549 187.3v0.9M135.426 187.3v0.9M138.865 187.3v0.9M142.303 187.3v0.9M145.741 187.3v0.9M152.618 187.3v0.9M156.057 187.3v0.9M159.495 187.3v0.9M162.933 187.3v0.9M169.81 187.3v0.9M173.248 187.3v0.9M176.687 187.3v0.9M180.125 187.3v0.9M187.002 187.3v0.9M190.44 187.3v0.9M21.1 185.642h-0.9M21.1 183.273h-0.9M21.1 178.535h-0.9M21.1 176.167h-0.9M21.1 173.798h-0.9M21.1 171.429h-0.9M21.1 166.691h-0.9M21.1 164.323h-0.9M21.1 161.954h-0.9M21.1 159.585h-0.9M21.1 154.848h-0.9M21.1 152.479h-0.9M21.1 150.11h-0.9M21.1 147.741h-0.9M21.1 143.004h-0.9M21.1 140.635h-0.9M21.1 138.266h-0.9M21.1 135.897h-0.9M21.1 131.16h-0.9M21.1 128.791h-0.9M21.1 126.422h-0.9M21.1 124.053h-0.9"/>
<text class="t" x="17.9" y="182.704" text-anchor="end">50</text>
<text class="t" x="17.9" y="170.86" text-anchor="end">60</text>
<text class="t" x="17.9" y="159.016" text-anchor="end">70</text>
<text class="t" x="17.9" y="147.172" text-anchor="end">80</text>
<text class="t" x="17.9" y="135.328" text-anchor="end">90</text>
<text class="t" x="17.9" y="123.484" text-anchor="end">100</text>
<text class="t" transform="translate(27.636 191.7) rotate(-45)" text-anchor="end">MSP</text>
<text class="t" transform="translate(44.828 191.7) rotate(-45)" text-anchor="end">ViM</text>
<text class="t" transform="translate(62.02 191.7) rotate(-45)" text-anchor="end">KNN</text>
<text class="t" transform="translate(79.212 191.7) rotate(-45)" text-anchor="end">ConfBranch</text>
<text class="t" transform="translate(96.404 191.7) rotate(-45)" text-anchor="end">LogitNorm</text>
<text class="t" transform="translate(113.596 191.7) rotate(-45)" text-anchor="end">G-ODIN</text>
<text class="t" transform="translate(130.788 191.7) rotate(-45)" text-anchor="end">OE</text>
<text class="t" transform="translate(147.98 191.7) rotate(-45)" text-anchor="end">MCD</text>
<text class="t" transform="translate(165.172 191.7) rotate(-45)" text-anchor="end">MCDropout</text>
<text class="t" transform="translate(182.364 191.7) rotate(-45)" text-anchor="end">TempScaling</text>
<rect class="lg" x="159.567" y="166.7" width="29.433" height="18.4" rx="0.6"/>
<path class="ln c0" d="M160.967 170.15H168.367"/>
<path class="eb c0" d="M164.667 168.15V172.15M162.967 168.15h3.4M162.967 172.15h3.4"/>
<circle class="f0" cx="164.667" cy="170.15" r="0.8"/>
<text class="lt" x="172.067" y="171.5">UCM-7/3</text>
<path class="ln c1 d1" d="M160.967 175.9H168.367"/>
<path class="eb c1" d="M164.667 173.9V177.9M162.967 173.9h3.4M162.967 177.9h3.4"/>
<rect class="f1" x="163.947" y="175.18" width="1.44" height="1.44"/>
<text class="lt" x="172.067" y="177.25">UCM-6/4</text>
<path class="ln c2 d2" d="M160.967 181.65H168.367"/>
<path class="eb c2" d="M164.667 179.65V183.65M162.967 179.65h3.4M162.967 183.65h3.4"/>
<path class="f2" d="M164.667 180.73L165.507 182.25H163.827Z"/>
<text class="lt" x="172.067" y="183">UCM-5/5</text>
<path class="mi" d="M198.16 120.5V187.3M201.601 120.5V187.3M208.481 120.5V187.3M211.922 120.5V187.3M215.362 120.5V187.3M218.803 120.5V187.3M225.683 120.5V187.3M229.124 120.5V187.3M232.564 120.5V187.3M236.005 120.5V187.3M242.885 120.5V187.3M246.326 120.5V187.3M249.766 120.5V187.3M253.207 120.5V187.3M260.087 120.5V187.3M263.528 120.5V187.3M266.968 120.5V187.3M270.409 120.5V187.3M277.289 120.5V187.3M280.73 120.5V187.3M284.17 120.5V187.3M287.611 120.5V187.3M294.491 120.5V187.3M297.932 120.5V187.3M301.372 120.5V187.3M304.813 120.5V187.3M311.693 120.5V187.3M315.134 120.5V187.3M318.574 120.5V187.3M322.015 120.5V187.3M328.895 120.5V187.3M332.336 120.5V187.3M335.776 120.5V187.3M339.217 120.5V187.3M346.097 120.5V187.3M349.538 120.5V187.3M352.978 120.5V187.3M356.419 120.5V187.3M363.299 120.5V187.3M366.74 120.5V187.3M197.3 185.642H367.6M197.3 183.273H367.6M197.3 178.535H367.6M197.3 176.167H367.6M197.3 173.798H367.6M197.3 171.429H367.6M197.3 166.691H367.6M197.3 164.323H367.6M197.3 161.954H367.6M197.3 159.585H367.6M197.3 154.848H367.6M197.3 152.479H367.6M197.3 150.11H367.6M197.3 147.741H367.6M197.3 143.004H367.6M197.3 140.635H367.6M197.3 138.266H367.6M197.3 135.897H367.6M197.3 131.16H367.6M197.3 128.791H367.6M197.3 126.422H367.6M197.3 124.053H367.6"/>
<path class="ma" d="M205.041 120.5V187.3M222.243 120.5V187.3M239.445 120.5V187.3M256.647 120.5V187.3M273.849 120.5V187.3M291.051 120.5V187.3M308.253 120.5V187.3M325.455 120.5V187.3M342.657 120.5V187.3M359.859 120.5V187.3M197.3 180.904H367.6M197.3 169.06H367.6M197.3 157.216H367.6M197.3 145.372H367.6M197.3 133.528H367.6M197.3 121.684H367.6"/>
<path class="eb c0" d="M205.041 124.806V130.406M203.341 124.806h3.4M203.341 130.406h3.4M222.243 124.333V129.933M220.543 124.333h3.4M220.543 129.933h3.4M239.445 123.504V129.104M237.745 123.504h3.4M237.745 129.104h3.4M256.647 147.073V152.673M254.947 147.073h3.4M254.947 152.673h3.4M273.849 128.478V134.078M272.149 128.478h3.4M272.149 134.078h3.4M291.051 140.085V145.685M289.351 140.085h3.4M289.351 145.685h3.4M308.253 128.478V134.078M306.553 128.478h3.4M306.553 134.078h3.4M325.455 133.808V139.408M323.755 133.808h3.4M323.755 139.408h3.4M342.657 126.583V132.183M340.957 126.583h3.4M340.957 132.183h3.4M359.859 125.991V131.591M358.159 125.991h3.4M358.159 131.591h3.4"/>
<polyline class="ln c0" points="205.041,127.606 222.243,127.133 239.445,126.304 256.647,149.873 273.849,131.278 291.051,142.885 308.253,131.278 325.455,136.608 342.657,129.383 359.859,128.791"/>
<circle class="f0" cx="205.041" cy="127.606" r="0.8"/><circle class="f0" cx="222.243" cy="127.133" r="0.8"/><circle class="f0" cx="239.445" cy="126.304" r="0.8"/><circle class="f0" cx="256.647" cy="149.873" r="0.8"/><circle class="f0" cx="273.849" cy="131.278" r="0.8"/><circle class="f0" cx="291.051" cy="142.885" r="0.8"/><circle class="f0" cx="308.253" cy="131.278" r="0.8"/><circle class="f0" cx="325.455" cy="136.608" r="0.8"/><circle class="f0" cx="342.657" cy="129.383" r="0.8"/><circle class="f0" cx="359.859" cy="128.791" r="0.8"/>
<path class="eb c1" d="M205.041 125.517V131.117M203.341 125.517h3.4M203.341 131.117h3.4M222.243 124.806V130.406M220.543 124.806h3.4M220.543 130.406h3.4M239.445 121.845V127.445M237.745 121.845h3.4M237.745 127.445h3.4M256.647 153.727V162.127M254.947 153.727h3.4M254.947 162.127h3.4M273.849 126.465V132.065M272.149 126.465h3.4M272.149 132.065h3.4M291.051 142.572V148.172M289.351 142.572h3.4M289.351 148.172h3.4M308.253 127.649V133.249M306.553 127.649h3.4M306.553 133.249h3.4M325.455 133.097V138.697M323.755 133.097h3.4M323.755 138.697h3.4M342.657 125.754V131.354M340.957 125.754h3.4M340.957 131.354h3.4M359.859 125.635V131.235M358.159 125.635h3.4M358.159 131.235h3.4"/>
<polyline class="ln c1 d1" points="205.041,128.317 222.243,127.606 239.445,124.645 256.647,157.927 273.849,129.265 291.051,145.372 308.253,130.449 325.455,135.897 342.657,128.554 359.859,128.435"/>
<rect class="f1" x="204.321" y="127.597" width="1.44" height="1.44"/><rect class="f1" x="221.523" y="126.886" width="1.44" height="1.44"/><rect class="f1" x="238.725" y="123.925" width="1.44" height="1.44"/><rect class="f1" x="255.927" y="157.207" width="1.44" height="1.44"/><rect class="f1" x="273.129" y="128.545" width="1.44" height="1.44"/><rect class="f1" x="290.331" y="144.652" width="1.44" height="1.44"/><rect class="f1" x="307.533" y="129.729" width="1.44" height="1.44"/><rect class="f1" x="324.735" y="135.177" width="1.44" height="1.44"/><rect class="f1" x="341.937" y="127.834" width="1.44" height="1.44"/><rect class="f1" x="359.139" y="127.715" width="1.44" height="1.44"/>
<path class="eb c2" d="M205.041 128.478V134.078M203.341 128.478h3.4M203.341 134.078h3.4M222.243 126.465V132.065M220.543 126.465h3.4M220.543 132.065h3.4M239.445 125.991V131.591M237.745 125.991h3.4M237.745 131.591h3.4M256.647 165.734V173.334M254.947 165.734h3.4M254.947 173.334h3.4M273.849 127.649V133.249M272.149 127.649h3.4M272.149 133.249h3.4M291.051 144.23V149.83M289.351 144.23h3.4M289.351 149.83h3.4M308.253 127.649V133.249M306.553 127.649h3.4M306.553 133.249h3.4M325.455 131.794V137.394M323.755 131.794h3.4M323.755 137.394h3.4M342.657 126.228V131.828M340.957 126.228h3.4M340.957 131.828h3.4M359.859 126.583V132.183M358.159 126.583h3.4M358.159 132.183h3.4"/>
<polyline class="ln c2 d2" points="205.041,131.278 222.243,129.265 239.445,128.791 256.647,169.534 273.849,130.449 291.051,147.03 308.253,130.449 325.455,134.594 342.657,129.028 359.859,129.383"/>
<path class="f2" d="M205.041 130.358L205.881 131.878H204.201Z"/><path class="f2" d="M222.243 128.345L223.083 129.865H221.403Z"/><path class="f2" d="M239.445 127.871L240.285 129.391H238.605Z"/><path class="f2" d="M256.647 168.614L257.487 170.134H255.807Z"/><path class="f2" d="M273.849 129.529L274.689 131.049H273.009Z"/><path class="f2" d="M291.051 146.11L291.891 147.63H290.211Z"/><path class="f2" d="M308.253 129.529L309.093 131.049H307.413Z"/><path class="f2" d="M325.455 133.674L326.295 135.194H324.615Z"/><path class="f2" d="M342.657 128.108L343.497 129.628H341.817Z"/><path class="f2" d="M359.859 128.463L360.699 129.983H359.019Z"/>
<rect class="sp" x="197.3" y="120.5" width="170.3" height="66.8"/>
<path class="tk" d="M205.041 187.3v1.5M222.243 187.3v1.5M239.445 187.3v1.5M256.647 187.3v1.5M273.849 187.3v1.5M291.051 187.3v1.5M308.253 187.3v1.5M325.455 187.3v1.5M342.657 187.3v1.5M359.859 187.3v1.5M197.3 180.904h-1.5M197.3 169.06h-1.5M197.3 157.216h-1.5M197.3 145.372h-1.5M197.3 133.528h-1.5M197.3 121.684h-1.5"/>
<path class="mt" d="M198.16 187.3v0.9M201.601 187.3v0.9M208.481 187.3v0.9M211.922 187.3v0.9M215.362 187.3v0.9M218.803 187.3v0.9M225.683 187.3v0.9M229.124 187.3v0.9M232.564 187.3v0.9M236.005 187.3v0.9M242.885 187.3v0.9M246.326 187.3v0.9M249.766 187.3v0.9M253.207 187.3v0.9M260.087 187.3v0.9M263.528 187.3v0.9M266.968 187.3v0.9M270.409 187.3v0.9M277.289 187.3v0.9M280.73 187.3v0.9M284.17 187.3v0.9M287.611 187.3v0.9M294.491 187.3v0.9M297.932 187.3v0.9M301.372 187.3v0.9M304.813 187.3v0.9M311.693 187.3v0.9M315.134 187.3v0.9M318.574 187.3v0.9M322.015 187.3v0.9M328.895 187.3v0.9M332.336 187.3v0.9M335.776 187.3v0.9M339.217 187.3v0.9M346.097 187.3v0.9M349.538 187.3v0.9M352.978 187.3v0.9M356.419 187.3v0.9M363.299 187.3v0.9M366.74 187.3v0.9M197.3 185.642h-0.9M197.3 183.273h-0.9M197.3 178.535h-0.9M197.3 176.167h-0.9M197.3 173.798h-0.9M197.3 171.429h-0.9M197.3 166.691h-0.9M197.3 164.323h-0.9M197.3 161.954h-0.9M197.3 159.585h-0.9M197.3 154.848h-0.9M197.3 152.479h-0.9M197.3 150.11h-0.9M197.3 147.741h-0.9M197.3 143.004h-0.9M197.3 140.635h-0.9M197.3 138.266h-0.9M197.3 135.897h-0.9M197.3 131.16h-0.9M197.3 128.791h-0.9M197.3 126.422h-0.9M197.3 124.053h-0.9"/>
<text class="t" transform="translate(203.841 191.7) rotate(-45)" text-anchor="end">MSP</text>
<text class="t" transform="translate(221.043 191.7) rotate(-45)" text-anchor="end">ViM</text>
<text class="t" transform="translate(238.245 191.7) rotate(-45)" text-anchor="end">KNN</text>
<text class="t" transform="translate(255.447 191.7) rotate(-45)" text-anchor="end">ConfBranch</text>
<text class="t" transform="translate(272.649 191.7) rotate(-45)" text-anchor="end">LogitNorm</text>
<text class="t" transform="translate(289.851 191.7) rotate(-45)" text-anchor="end">G-ODIN</text>
<text class="t" transform="translate(307.053 191.7) rotate(-45)" text-anchor="end">OE</text>
<text class="t" transform="translate(324.255 191.7) rotate(-45)" text-anchor="end">MCD</text>
<text class="t" transform="translate(341.457 191.7) rotate(-45)" text-anchor="end">MCDropout</text>
<text class="t" transform="translate(358.659 191.7) rotate(-45)" text-anchor="end">TempScaling</text>
<rect class="lg" x="337.836" y="166.7" width="27.464" height="18.4" rx="0.6"/>
<path class="ln c0" d="M339.236 170.15H346.636"/>
<path class="eb c0" d="M342.936 168.15V172.15M341.236 168.15h3.4M341.236 172.15h3.4"/>
<circle class="f0" cx="342.936" cy="170.15" r="0.8"/>
<text class="lt" x="350.336" y="171.5">AID-7/3</text>
<path class="ln c1 d1" d="M339.236 175.9H346.636"/>
<path class="eb c1" d="M342.936 173.9V177.9M341.236 173.9h3.4M341.236 177.9h3.4"/>
<rect class="f1" x="342.216" y="175.18" width="1.44" height="1.44"/>
<text class="lt" x="350.336" y="177.25">AID-6/4</text>
<path class="ln c2 d2" d="M339.236 181.65H346.636"/>
<path class="eb c2" d="M342.936 179.65V183.65M341.236 179.65h3.4M341.236 183.65h3.4"/>
<path class="f2" d="M342.936 180.73L343.776 182.25H342.096Z"/>
<text class="lt" x="350.336" y="183">AID-5/5</text>
<path class="mi" d="M375.26 120.5V187.3M378.701 120.5V187.3M385.581 120.5V187.3M389.022 120.5V187.3M392.462 120.5V187.3M395.903 120.5V187.3M402.783 120.5V187.3M406.224 120.5V187.3M409.664 120.5V187.3M413.105 120.5V187.3M419.985 120.5V187.3M423.426 120.5V187.3M426.866 120.5V187.3M430.307 120.5V187.3M437.187 120.5V187.3M440.628 120.5V187.3M444.068 120.5V187.3M447.509 120.5V187.3M454.389 120.5V187.3M457.83 120.5V187.3M461.27 120.5V187.3M464.711 120.5V187.3M471.591 120.5V187.3M475.032 120.5V187.3M478.472 120.5V187.3M481.913 120.5V187.3M488.793 120.5V187.3M492.234 120.5V187.3M495.674 120.5V187.3M499.115 120.5V187.3M505.995 120.5V187.3M509.436 120.5V187.3M512.876 120.5V187.3M516.317 120.5V187.3M523.197 120.5V187.3M526.638 120.5V187.3M530.078 120.5V187.3M533.519 120.5V187.3M540.399 120.5V187.3M543.84 120.5V187.3M374.4 185.642H544.7M374.4 183.273H544.7M374.4 178.535H544.7M374.4 176.167H544.7M374.4 173.798H544.7M374.4 171.429H544.7M374.4 166.691H544.7M374.4 164.323H544.7M374.4 161.954H544.7M374.4 159.585H544.7M374.4 154.848H544.7M374.4 152.479H544.7M374.4 150.11H544.7M374.4 147.741H544.7M374.4 143.004H544.7M374.4 140.635H544.7M374.4 138.266H544.7M374.4 135.897H544.7M374.4 131.16H544.7M374.4 128.791H544.7M374.4 126.422H544.7M374.4 124.053H544.7"/>
<path class="ma" d="M382.141 120.5V187.3M399.343 120.5V187.3M416.545 120.5V187.3M433.747 120.5V187.3M450.949 120.5V187.3M468.151 120.5V187.3M485.353 120.5V187.3M502.555 120.5V187.3M519.757 120.5V187.3M536.959 120.5V187.3M374.4 180.904H544.7M374.4 169.06H544.7M374.4 157.216H544.7M374.4 145.372H544.7M374.4 133.528H544.7M374.4 121.684H544.7"/>
<path class="eb c0" d="M382.141 125.517V131.117M380.441 125.517h3.4M380.441 131.117h3.4M399.343 125.517V131.117M397.643 125.517h3.4M397.643 131.117h3.4M416.545 126.82V132.42M414.845 126.82h3.4M414.845 132.42h3.4M433.747 150.863V156.463M432.047 150.863h3.4M432.047 156.463h3.4M450.949 123.148V128.748M449.249 123.148h3.4M449.249 128.748h3.4M468.151 136.769V142.369M466.451 136.769h3.4M466.451 142.369h3.4M485.353 125.991V131.591M483.653 125.991h3.4M483.653 131.591h3.4M502.555 128.241V133.841M500.855 128.241h3.4M500.855 133.841h3.4M519.757 127.175V132.775M518.057 127.175h3.4M518.057 132.775h3.4M536.959 125.517V131.117M535.259 125.517h3.4M535.259 131.117h3.4"/>
<polyline class="ln c0" points="382.141,128.317 399.343,128.317 416.545,129.62 433.747,153.663 450.949,125.948 468.151,139.569 485.353,128.791 502.555,131.041 519.757,129.975 536.959,128.317"/>
<circle class="f0" cx="382.141" cy="128.317" r="0.8"/><circle class="f0" cx="399.343" cy="128.317" r="0.8"/><circle class="f0" cx="416.545" cy="129.62" r="0.8"/><circle class="f0" cx="433.747" cy="153.663" r="0.8"/><circle class="f0" cx="450.949" cy="125.948" r="0.8"/><circle class="f0" cx="468.151" cy="139.569" r="0.8"/><circle class="f0" cx="485.353" cy="128.791" r="0.8"/><circle class="f0" cx="502.555" cy="131.041" r="0.8"/><circle class="f0" cx="519.757" cy="129.975" r="0.8"/><circle class="f0" cx="536.959" cy="128.317" r="0.8"/>
<path class="eb c1" d="M382.141 130.136V135.736M380.441 130.136h3.4M380.441 135.736h3.4M399.343 125.991V131.591M397.643 125.991h3.4M397.643 131.591h3.4M416.545 130.136V135.736M414.845 130.136h3.4M414.845 135.736h3.4M433.747 152.64V158.24M432.047 152.64h3.4M432.047 158.24h3.4M450.949 121.845V127.445M449.249 121.845h3.4M449.249 127.445h3.4M468.151 141.743V147.343M466.451 141.743h3.4M466.451 147.343h3.4M485.353 129.307V134.907M483.653 129.307h3.4M483.653 134.907h3.4M502.555 130.136V135.736M500.855 130.136h3.4M500.855 135.736h3.4M519.757 130.136V135.736M518.057 130.136h3.4M518.057 135.736h3.4M536.959 127.649V133.249M535.259 127.649h3.4M535.259 133.249h3.4"/>
<polyline class="ln c1 d1" points="382.141,132.936 399.343,128.791 416.545,132.936 433.747,155.44 450.949,124.645 468.151,144.543 485.353,132.107 502.555,132.936 519.757,132.936 536.959,130.449"/>
<rect class="f1" x="381.421" y="132.216" width="1.44" height="1.44"/><rect class="f1" x="398.623" y="128.071" width="1.44" height="1.44"/><rect class="f1" x="415.825" y="132.216" width="1.44" height="1.44"/><rect class="f1" x="433.027" y="154.72" width="1.44" height="1.44"/><rect class="f1" x="450.229" y="123.925" width="1.44" height="1.44"/><rect class="f1" x="467.431" y="143.823" width="1.44" height="1.44"/><rect class="f1" x="484.633" y="131.387" width="1.44" height="1.44"/><rect class="f1" x="501.835" y="132.216" width="1.44" height="1.44"/><rect class="f1" x="519.037" y="132.216" width="1.44" height="1.44"/><rect class="f1" x="536.239" y="129.729" width="1.44" height="1.44"/>
<path class="eb c2" d="M382.141 129.307V134.907M380.441 129.307h3.4M380.441 134.907h3.4M399.343 124.333V129.933M397.643 124.333h3.4M397.643 129.933h3.4M416.545 130.965V136.565M414.845 130.965h3.4M414.845 136.565h3.4M433.747 151.692V157.292M432.047 151.692h3.4M432.047 157.292h3.4M450.949 125.162V130.762M449.249 125.162h3.4M449.249 130.762h3.4M468.151 147.505V156.505M466.451 147.505h3.4M466.451 156.505h3.4M485.353 130.965V136.565M483.653 130.965h3.4M483.653 136.565h3.4M502.555 130.965V136.565M500.855 130.965h3.4M500.855 136.565h3.4M519.757 131.794V137.394M518.057 131.794h3.4M518.057 137.394h3.4M536.959 130.136V135.736M535.259 130.136h3.4M535.259 135.736h3.4"/>
<polyline class="ln c2 d2" points="382.141,132.107 399.343,127.133 416.545,133.765 433.747,154.492 450.949,127.962 468.151,152.005 485.353,133.765 502.555,133.765 519.757,134.594 536.959,132.936"/>
<path class="f2" d="M382.141 131.187L382.981 132.707H381.301Z"/><path class="f2" d="M399.343 126.213L400.183 127.733H398.503Z"/><path class="f2" d="M416.545 132.845L417.385 134.365H415.705Z"/><path class="f2" d="M433.747 153.572L434.587 155.092H432.907Z"/><path class="f2" d="M450.949 127.042L451.789 128.562H450.109Z"/><path class="f2" d="M468.151 151.085L468.991 152.605H467.311Z"/><path class="f2" d="M485.353 132.845L486.193 134.365H484.513Z"/><path class="f2" d="M502.555 132.845L503.395 134.365H501.715Z"/><path class="f2" d="M519.757 133.674L520.597 135.194H518.917Z"/><path class="f2" d="M536.959 132.016L537.799 133.536H536.119Z"/>
<rect class="sp" x="374.4" y="120.5" width="170.3" height="66.8"/>
<path class="tk" d="M382.141 187.3v1.5M399.343 187.3v1.5M416.545 187.3v1.5M433.747 187.3v1.5M450.949 187.3v1.5M468.151 187.3v1.5M485.353 187.3v1.5M502.555 187.3v1.5M519.757 187.3v1.5M536.959 187.3v1.5M374.4 180.904h-1.5M374.4 169.06h-1.5M374.4 157.216h-1.5M374.4 145.372h-1.5M374.4 133.528h-1.5M374.4 121.684h-1.5"/>
<path class="mt" d="M375.26 187.3v0.9M378.701 187.3v0.9M385.581 187.3v0.9M389.022 187.3v0.9M392.462 187.3v0.9M395.903 187.3v0.9M402.783 187.3v0.9M406.224 187.3v0.9M409.664 187.3v0.9M413.105 187.3v0.9M419.985 187.3v0.9M423.426 187.3v0.9M426.866 187.3v0.9M430.307 187.3v0.9M437.187 187.3v0.9M440.628 187.3v0.9M444.068 187.3v0.9M447.509 187.3v0.9M454.389 187.3v0.9M457.83 187.3v0.9M461.27 187.3v0.9M464.711 187.3v0.9M471.591 187.3v0.9M475.032 187.3v0.9M478.472 187.3v0.9M481.913 187.3v0.9M488.793 187.3v0.9M492.234 187.3v0.9M495.674 187.3v0.9M499.115 187.3v0.9M505.995 187.3v0.9M509.436 187.3v0.9M512.876 187.3v0.9M516.317 187.3v0.9M523.197 187.3v0.9M526.638 187.3v0.9M530.078 187.3v0.9M533.519 187.3v0.9M540.399 187.3v0.9M543.84 187.3v0.9M374.4 185.642h-0.9M374.4 183.273h-0.9M374.4 178.535h-0.9M374.4 176.167h-0.9M374.4 173.798h-0.9M374.4 171.429h-0.9M374.4 166.691h-0.9M374.4 164.323h-0.9M374.4 161.954h-0.9M374.4 159.585h-0.9M374.4 154.848h-0.9M374.4 152.479h-0.9M374.4 150.11h-0.9M374.4 147.741h-0.9M374.4 143.004h-0.9M374.4 140.635h-0.9M374.4 138.266h-0.9M374.4 135.897h-0.9M374.4 131.16h-0.9M374.4 128.791h-0.9M374.4 126.422h-0.9M374.4 124.053h-0.9"/>
<text class="t" transform="translate(380.941 191.7) rotate(-45)" text-anchor="end">MSP</text>
<text class="t" transform="translate(398.143 191.7) rotate(-45)" text-anchor="end">ViM</text>
<text class="t" transform="translate(415.345 191.7) rotate(-45)" text-anchor="end">KNN</text>
<text class="t" transform="translate(432.547 191.7) rotate(-45)" text-anchor="end">ConfBranch</text>
<text class="t" transform="translate(449.749 191.7) rotate(-45)" text-anchor="end">LogitNorm</text>
<text class="t" transform="translate(466.951 191.7) rotate(-45)" text-anchor="end">G-ODIN</text>
<text class="t" transform="translate(484.153 191.7) rotate(-45)" text-anchor="end">OE</text>
<text class="t" transform="translate(501.355 191.7) rotate(-45)" text-anchor="end">MCD</text>
<text class="t" transform="translate(518.557 191.7) rotate(-45)" text-anchor="end">MCDropout</text>
<text class="t" transform="translate(535.759 191.7) rotate(-45)" text-anchor="end">TempScaling</text>
<rect class="lg" x="506.623" y="166.7" width="35.777" height="18.4" rx="0.6"/>
<path class="ln c0" d="M508.023 170.15H515.423"/>
<path class="eb c0" d="M511.723 168.15V172.15M510.023 168.15h3.4M510.023 172.15h3.4"/>
<circle class="f0" cx="511.723" cy="170.15" r="0.8"/>
<text class="lt" x="519.123" y="171.5">EuroSAT-7/3</text>
<path class="ln c1 d1" d="M508.023 175.9H515.423"/>
<path class="eb c1" d="M511.723 173.9V177.9M510.023 173.9h3.4M510.023 177.9h3.4"/>
<rect class="f1" x="511.003" y="175.18" width="1.44" height="1.44"/>
<text class="lt" x="519.123" y="177.25">EuroSAT-6/4</text>
<path class="ln c2 d2" d="M508.023 181.65H515.423"/>
<path class="eb c2" d="M511.723 179.65V183.65M510.023 179.65h3.4M510.023 183.65h3.4"/>
<path class="f2" d="M511.723 180.73L512.563 182.25H510.883Z"/>
<text class="lt" x="519.123" y="183">EuroSAT-5/5</text>
<path class="mi" d="M21.661 228.3V295M25.103 228.3V295M31.988 228.3V295M35.43 228.3V295M38.873 228.3V295M42.315 228.3V295M49.2 228.3V295M52.642 228.3V295M56.085 228.3V295M59.527 228.3V295M66.412 228.3V295M69.855 228.3V295M73.297 228.3V295M76.739 228.3V295M83.624 228.3V295M87.067 228.3V295M90.509 228.3V295M93.952 228.3V295M100.836 228.3V295M104.279 228.3V295M107.721 228.3V295M111.164 228.3V295M118.048 228.3V295M121.491 228.3V295M124.933 228.3V295M128.376 228.3V295M135.261 228.3V295M138.703 228.3V295M142.145 228.3V295M145.588 228.3V295M152.473 228.3V295M155.915 228.3V295M159.358 228.3V295M162.8 228.3V295M169.685 228.3V295M173.127 228.3V295M176.57 228.3V295M180.012 228.3V295M186.897 228.3V295M190.339 228.3V295M20.8 292.624H191.2M20.8 290.797H191.2M20.8 288.97H191.2M20.8 287.142H191.2M20.8 283.487H191.2M20.8 281.66H191.2M20.8 279.833H191.2M20.8 278.005H191.2M20.8 274.35H191.2M20.8 272.523H191.2M20.8 270.696H191.2M20.8 268.868H191.2M20.8 265.213H191.2M20.8 263.386H191.2M20.8 261.559H191.2M20.8 259.731H191.2M20.8 256.076H191.2M20.8 254.249H191.2M20.8 252.422H191.2M20.8 250.594H191.2M20.8 246.939H191.2M20.8 245.112H191.2M20.8 243.285H191.2M20.8 241.457H191.2M20.8 237.802H191.2M20.8 235.975H191.2M20.8 234.148H191.2M20.8 232.32H191.2M20.8 228.665H191.2"/>
<path class="ma" d="M28.545 228.3V295M45.758 228.3V295M62.97 228.3V295M80.182 228.3V295M97.394 228.3V295M114.606 228.3V295M131.818 228.3V295M149.03 228.3V295M166.242 228.3V295M183.455 228.3V295M20.8 294.452H191.2M20.8 285.315H191.2M20.8 276.178H191.2M20.8 267.041H191.2M20.8 257.904H191.2M20.8 248.767H191.2M20.8 239.63H191.2M20.8 230.493H191.2"/>
<path class="eb c0" d="M28.545 240.976V245.776M26.845 240.976h3.4M26.845 245.776h3.4M45.758 237.687V242.487M44.058 237.687h3.4M44.058 242.487h3.4M62.97 238.144V242.944M61.27 238.144h3.4M61.27 242.944h3.4M80.182 285.839V290.639M78.482 285.839h3.4M78.482 290.639h3.4M97.394 242.164V246.964M95.694 242.164h3.4M95.694 246.964h3.4M114.606 275.879V280.679M112.906 275.879h3.4M112.906 280.679h3.4M131.818 236.864V241.664M130.118 236.864h3.4M130.118 241.664h3.4M149.03 257.605V262.405M147.33 257.605h3.4M147.33 262.405h3.4M166.242 240.154V244.954M164.542 240.154h3.4M164.542 244.954h3.4M183.455 240.976V245.776M181.755 240.976h3.4M181.755 245.776h3.4"/>
<polyline class="ln c0" points="28.545,243.376 45.758,240.087 62.97,240.544 80.182,288.239 97.394,244.564 114.606,278.279 131.818,239.264 149.03,260.005 166.242,242.554 183.455,243.376"/>
<circle class="f0" cx="28.545" cy="243.376" r="0.8"/><circle class="f0" cx="45.758" cy="240.087" r="0.8"/><circle class="f0" cx="62.97" cy="240.544" r="0.8"/><circle class="f0" cx="80.182" cy="288.239" r="0.8"/><circle class="f0" cx="97.394" cy="244.564" r="0.8"/><circle class="f0" cx="114.606" cy="278.279" r="0.8"/><circle class="f0" cx="131.818" cy="239.264" r="0.8"/><circle class="f0" cx="149.03" cy="260.005" r="0.8"/><circle class="f0" cx="166.242" cy="242.554" r="0.8"/><circle class="f0" cx="183.455" cy="243.376" r="0.8"/>
<path class="eb c1" d="M28.545 238.875V243.675M26.845 238.875h3.4M26.845 243.675h3.4M45.758 235.585V240.385M44.058 235.585h3.4M44.058 240.385h3.4M62.97 236.59V241.39M61.27 236.59h3.4M61.27 241.39h3.4M80.182 284.739V291.739M78.482 284.739h3.4M78.482 291.739h3.4M97.394 241.89V246.69M95.694 241.89h3.4M95.694 246.69h3.4M114.606 268.478V273.278M112.906 268.478h3.4M112.906 273.278h3.4M131.818 231.93V236.73M130.118 231.93h3.4M130.118 236.73h3.4M149.03 254.316V259.116M147.33 254.316h3.4M147.33 259.116h3.4M166.242 237.687V242.487M164.542 237.687h3.4M164.542 242.487h3.4M183.455 237.23V242.03M181.755 237.23h3.4M181.755 242.03h3.4"/>
<polyline class="ln c1 d1" points="28.545,241.275 45.758,237.985 62.97,238.99 80.182,288.239 97.394,244.29 114.606,270.878 131.818,234.33 149.03,256.716 166.242,240.087 183.455,239.63"/>
<rect class="f1" x="27.825" y="240.555" width="1.44" height="1.44"/><rect class="f1" x="45.038" y="237.265" width="1.44" height="1.44"/><rect class="f1" x="62.25" y="238.27" width="1.44" height="1.44"/><rect class="f1" x="79.462" y="287.519" width="1.44" height="1.44"/><rect class="f1" x="96.674" y="243.57" width="1.44" height="1.44"/><rect class="f1" x="113.886" y="270.158" width="1.44" height="1.44"/><rect class="f1" x="131.098" y="233.61" width="1.44" height="1.44"/><rect class="f1" x="148.31" y="255.996" width="1.44" height="1.44"/><rect class="f1" x="165.522" y="239.367" width="1.44" height="1.44"/><rect class="f1" x="182.735" y="238.91" width="1.44" height="1.44"/>
<path class="eb c2" d="M28.545 236.59V241.39M26.845 236.59h3.4M26.845 241.39h3.4M45.758 233.21V238.01M44.058 233.21h3.4M44.058 238.01h3.4M62.97 235.585V240.385M61.27 235.585h3.4M61.27 240.385h3.4M80.182 274.457V280.457M78.482 274.457h3.4M78.482 280.457h3.4M97.394 240.154V244.954M95.694 240.154h3.4M95.694 244.954h3.4M114.606 260.072V264.872M112.906 260.072h3.4M112.906 264.872h3.4M131.818 231.108V235.908M130.118 231.108h3.4M130.118 235.908h3.4M149.03 249.291V254.091M147.33 249.291h3.4M147.33 254.091h3.4M166.242 234.854V239.654M164.542 234.854h3.4M164.542 239.654h3.4M183.455 233.575V238.375M181.755 233.575h3.4M181.755 238.375h3.4"/>
<polyline class="ln c2 d2" points="28.545,238.99 45.758,235.61 62.97,237.985 80.182,277.457 97.394,242.554 114.606,262.472 131.818,233.508 149.03,251.691 166.242,237.254 183.455,235.975"/>
<path class="f2" d="M28.545 238.07L29.385 239.59H27.705Z"/><path class="f2" d="M45.758 234.69L46.598 236.21H44.918Z"/><path class="f2" d="M62.97 237.065L63.81 238.585H62.13Z"/><path class="f2" d="M80.182 276.537L81.022 278.057H79.342Z"/><path class="f2" d="M97.394 241.634L98.234 243.154H96.554Z"/><path class="f2" d="M114.606 261.552L115.446 263.072H113.766Z"/><path class="f2" d="M131.818 232.588L132.658 234.108H130.978Z"/><path class="f2" d="M149.03 250.771L149.87 252.291H148.19Z"/><path class="f2" d="M166.242 236.334L167.082 237.854H165.402Z"/><path class="f2" d="M183.455 235.055L184.295 236.575H182.615Z"/>
<rect class="sp" x="20.8" y="228.3" width="170.4" height="66.7"/>
<path class="tk" d="M28.545 295v1.5M45.758 295v1.5M62.97 295v1.5M80.182 295v1.5M97.394 295v1.5M114.606 295v1.5M131.818 295v1.5M149.03 295v1.5M166.242 295v1.5M183.455 295v1.5M20.8 294.452h-1.5M20.8 285.315h-1.5M20.8 276.178h-1.5M20.8 267.041h-1.5M20.8 257.904h-1.5M20.8 248.767h-1.5M20.8 239.63h-1.5M20.8 230.493h-1.5"/>
<path class="mt" d="M21.661 295v0.9M25.103 295v0.9M31.988 295v0.9M35.43 295v0.9M38.873 295v0.9M42.315 295v0.9M49.2 295v0.9M52.642 295v0.9M56.085 295v0.9M59.527 295v0.9M66.412 295v0.9M69.855 295v0.9M73.297 295v0.9M76.739 295v0.9M83.624 295v0.9M87.067 295v0.9M90.509 295v0.9M93.952 295v0.9M100.836 295v0.9M104.279 295v0.9M107.721 295v0.9M111.164 295v0.9M118.048 295v0.9M121.491 295v0.9M124.933 295v0.9M128.376 295v0.9M135.261 295v0.9M138.703 295v0.9M142.145 295v0.9M145.588 295v0.9M152.473 295v0.9M155.915 295v0.9M159.358 295v0.9M162.8 295v0.9M169.685 295v0.9M173.127 295v0.9M176.57 295v0.9M180.012 295v0.9M186.897 295v0.9M190.339 295v0.9M20.8 292.624h-0.9M20.8 290.797h-0.9M20.8 288.97h-0.9M20.8 287.142h-0.9M20.8 283.487h-0.9M20.8 281.66h-0.9M20.8 279.833h-0.9M20.8 278.005h-0.9M20.8 274.35h-0.9M20.8 272.523h-0.9M20.8 270.696h-0.9M20.8 268.868h-0.9M20.8 265.213h-0.9M20.8 263.386h-0.9M20.8 261.559h-0.9M20.8 259.731h-0.9M20.8 256.076h-0.9M20.8 254.249h-0.9M20.8 252.422h-0.9M20.8 250.594h-0.9M20.8 246.939h-0.9M20.8 245.112h-0.9M20.8 243.285h-0.9M20.8 241.457h-0.9M20.8 237.802h-0.9M20.8 235.975h-0.9M20.8 234.148h-0.9M20.8 232.32h-0.9M20.8 228.665h-0.9"/>
<text class="t" x="17.6" y="296.252" text-anchor="end">30</text>
<text class="t" x="17.6" y="287.115" text-anchor="end">40</text>
<text class="t" x="17.6" y="277.978" text-anchor="end">50</text>
<text class="t" x="17.6" y="268.841" text-anchor="end">60</text>
<text class="t" x="17.6" y="259.704" text-anchor="end">70</text>
<text class="t" x="17.6" y="250.567" text-anchor="end">80</text>
<text class="t" x="17.6" y="241.43" text-anchor="end">90</text>
<text class="t" x="17.6" y="232.293" text-anchor="end">100</text>
<text class="t" transform="translate(27.345 299.4) rotate(-45)" text-anchor="end">MSP</text>
<text class="t" transform="translate(44.558 299.4) rotate(-45)" text-anchor="end">ViM</text>
<text class="t" transform="translate(61.77 299.4) rotate(-45)" text-anchor="end">KNN</text>
<text class="t" transform="translate(78.982 299.4) rotate(-45)" text-anchor="end">ConfBranch</text>
<text class="t" transform="translate(96.194 299.4) rotate(-45)" text-anchor="end">LogitNorm</text>
<text class="t" transform="translate(113.406 299.4) rotate(-45)" text-anchor="end">G-ODIN</text>
<text class="t" transform="translate(130.618 299.4) rotate(-45)" text-anchor="end">OE</text>
<text class="t" transform="translate(147.83 299.4) rotate(-45)" text-anchor="end">MCD</text>
<text class="t" transform="translate(165.042 299.4) rotate(-45)" text-anchor="end">MCDropout</text>
<text class="t" transform="translate(182.255 299.4) rotate(-45)" text-anchor="end">TempScaling</text>
<rect class="lg" x="159.467" y="274.4" width="29.433" height="18.4" rx="0.6"/>
<path class="ln c0" d="M160.867 277.85H168.267"/>
<path class="eb c0" d="M164.567 275.85V279.85M162.867 275.85h3.4M162.867 279.85h3.4"/>
<circle class="f0" cx="164.567" cy="277.85" r="0.8"/>
<text class="lt" x="171.967" y="279.2">UCM-7/3</text>
<path class="ln c1 d1" d="M160.867 283.6H168.267"/>
<path class="eb c1" d="M164.567 281.6V285.6M162.867 281.6h3.4M162.867 285.6h3.4"/>
<rect class="f1" x="163.847" y="282.88" width="1.44" height="1.44"/>
<text class="lt" x="171.967" y="284.95">UCM-6/4</text>
<path class="ln c2 d2" d="M160.867 289.35H168.267"/>
<path class="eb c2" d="M164.567 287.35V291.35M162.867 287.35h3.4M162.867 291.35h3.4"/>
<path class="f2" d="M164.567 288.43L165.407 289.95H163.727Z"/>
<text class="lt" x="171.967" y="290.7">UCM-5/5</text>
<path class="mi" d="M198.16 228.3V295M201.601 228.3V295M208.481 228.3V295M211.922 228.3V295M215.362 228.3V295M218.803 228.3V295M225.683 228.3V295M229.124 228.3V295M232.564 228.3V295M236.005 228.3V295M242.885 228.3V295M246.326 228.3V295M249.766 228.3V295M253.207 228.3V295M260.087 228.3V295M263.528 228.3V295M266.968 228.3V295M270.409 228.3V295M277.289 228.3V295M280.73 228.3V295M284.17 228.3V295M287.611 228.3V295M294.491 228.3V295M297.932 228.3V295M301.372 228.3V295M304.813 228.3V295M311.693 228.3V295M315.134 228.3V295M318.574 228.3V295M322.015 228.3V295M328.895 228.3V295M332.336 228.3V295M335.776 228.3V295M339.217 228.3V295M346.097 228.3V295M349.538 228.3V295M352.978 228.3V295M356.419 228.3V295M363.299 228.3V295M366.74 228.3V295M197.3 292.624H367.6M197.3 290.797H367.6M197.3 288.97H367.6M197.3 287.142H367.6M197.3 283.487H367.6M197.3 281.66H367.6M197.3 279.833H367.6M197.3 278.005H367.6M197.3 274.35H367.6M197.3 272.523H367.6M197.3 270.696H367.6M197.3 268.868H367.6M197.3 265.213H367.6M197.3 263.386H367.6M197.3 261.559H367.6M197.3 259.731H367.6M197.3 256.076H367.6M197.3 254.249H367.6M197.3 252.422H367.6M197.3 250.594H367.6M197.3 246.939H367.6M197.3 245.112H367.6M197.3 243.285H367.6M197.3 241.457H367.6M197.3 237.802H367.6M197.3 235.975H367.6M197.3 234.148H367.6M197.3 232.32H367.6M197.3 228.665H367.6"/>
<path class="ma" d="M205.041 228.3V295M222.243 228.3V295M239.445 228.3V295M256.647 228.3V295M273.849 228.3V295M291.051 228.3V295M308.253 228.3V295M325.455 228.3V295M342.657 228.3V295M359.859 228.3V295M197.3 294.452H367.6M197.3 285.315H367.6M197.3 276.178H367.6M197.3 267.041H367.6M197.3 257.904H367.6M197.3 248.767H367.6M197.3 239.63H367.6M197.3 230.493H367.6"/>
<path class="eb c0" d="M205.041 240.154V244.954M203.341 240.154h3.4M203.341 244.954h3.4M222.243 237.23V242.03M220.543 237.23h3.4M220.543 242.03h3.4M239.445 236.133V240.933M237.745 236.133h3.4M237.745 240.933h3.4M256.647 277.615V282.415M254.947 277.615h3.4M254.947 282.415h3.4M273.849 240.154V244.954M272.149 240.154h3.4M272.149 244.954h3.4M291.051 261.443V266.243M289.351 261.443h3.4M289.351 266.243h3.4M308.253 240.154V244.954M306.553 240.154h3.4M306.553 244.954h3.4M325.455 247.646V252.446M323.755 247.646h3.4M323.755 252.446h3.4M342.657 239.423V244.223M340.957 239.423h3.4M340.957 244.223h3.4M359.859 240.976V245.776M358.159 240.976h3.4M358.159 245.776h3.4"/>
<polyline class="ln c0" points="205.041,242.554 222.243,239.63 239.445,238.533 256.647,280.015 273.849,242.554 291.051,263.843 308.253,242.554 325.455,250.046 342.657,241.823 359.859,243.376"/>
<circle class="f0" cx="205.041" cy="242.554" r="0.8"/><circle class="f0" cx="222.243" cy="239.63" r="0.8"/><circle class="f0" cx="239.445" cy="238.533" r="0.8"/><circle class="f0" cx="256.647" cy="280.015" r="0.8"/><circle class="f0" cx="273.849" cy="242.554" r="0.8"/><circle class="f0" cx="291.051" cy="263.843" r="0.8"/><circle class="f0" cx="308.253" cy="242.554" r="0.8"/><circle class="f0" cx="325.455" cy="250.046" r="0.8"/><circle class="f0" cx="342.657" cy="241.823" r="0.8"/><circle class="f0" cx="359.859" cy="243.376" r="0.8"/>
<path class="eb c1" d="M205.041 236.864V241.664M203.341 236.864h3.4M203.341 241.664h3.4M222.243 233.849V238.649M220.543 233.849h3.4M220.543 238.649h3.4M239.445 233.849V238.649M237.745 233.849h3.4M237.745 238.649h3.4M256.647 280.949V288.949M254.947 280.949h3.4M254.947 288.949h3.4M273.849 238.144V242.944M272.149 238.144h3.4M272.149 242.944h3.4M291.051 258.519V263.319M289.351 258.519h3.4M289.351 263.319h3.4M308.253 238.144V242.944M306.553 238.144h3.4M306.553 242.944h3.4M325.455 244.905V249.705M323.755 244.905h3.4M323.755 249.705h3.4M342.657 236.59V241.39M340.957 236.59h3.4M340.957 241.39h3.4M359.859 236.864V241.664M358.159 236.864h3.4M358.159 241.664h3.4"/>
<polyline class="ln c1 d1" points="205.041,239.264 222.243,236.249 239.445,236.249 256.647,284.949 273.849,240.544 291.051,260.919 308.253,240.544 325.455,247.305 342.657,238.99 359.859,239.264"/>
<rect class="f1" x="204.321" y="238.544" width="1.44" height="1.44"/><rect class="f1" x="221.523" y="235.529" width="1.44" height="1.44"/><rect class="f1" x="238.725" y="235.529" width="1.44" height="1.44"/><rect class="f1" x="255.927" y="284.229" width="1.44" height="1.44"/><rect class="f1" x="273.129" y="239.824" width="1.44" height="1.44"/><rect class="f1" x="290.331" y="260.199" width="1.44" height="1.44"/><rect class="f1" x="307.533" y="239.824" width="1.44" height="1.44"/><rect class="f1" x="324.735" y="246.585" width="1.44" height="1.44"/><rect class="f1" x="341.937" y="238.27" width="1.44" height="1.44"/><rect class="f1" x="359.139" y="238.544" width="1.44" height="1.44"/>
<path class="eb c2" d="M205.041 233.575V238.375M203.341 233.575h3.4M203.341 238.375h3.4M222.243 234.854V239.654M220.543 234.854h3.4M220.543 239.654h3.4M239.445 232.661V237.461M237.745 232.661h3.4M237.745 237.461h3.4M256.647 265.098V269.898M254.947 265.098h3.4M254.947 269.898h3.4M273.849 234.489V239.289M272.149 234.489h3.4M272.149 239.289h3.4M291.051 254.316V259.116M289.351 254.316h3.4M289.351 259.116h3.4M308.253 236.133V240.933M306.553 236.133h3.4M306.553 240.933h3.4M325.455 241.89V246.69M323.755 241.89h3.4M323.755 246.69h3.4M342.657 233.575V238.375M340.957 233.575h3.4M340.957 238.375h3.4M359.859 232.661V237.461M358.159 232.661h3.4M358.159 237.461h3.4"/>
<polyline class="ln c2 d2" points="205.041,235.975 222.243,237.254 239.445,235.061 256.647,267.498 273.849,236.889 291.051,256.716 308.253,238.533 325.455,244.29 342.657,235.975 359.859,235.061"/>
<path class="f2" d="M205.041 235.055L205.881 236.575H204.201Z"/><path class="f2" d="M222.243 236.334L223.083 237.854H221.403Z"/><path class="f2" d="M239.445 234.141L240.285 235.661H238.605Z"/><path class="f2" d="M256.647 266.578L257.487 268.098H255.807Z"/><path class="f2" d="M273.849 235.969L274.689 237.489H273.009Z"/><path class="f2" d="M291.051 255.796L291.891 257.316H290.211Z"/><path class="f2" d="M308.253 237.613L309.093 239.133H307.413Z"/><path class="f2" d="M325.455 243.37L326.295 244.89H324.615Z"/><path class="f2" d="M342.657 235.055L343.497 236.575H341.817Z"/><path class="f2" d="M359.859 234.141L360.699 235.661H359.019Z"/>
<rect class="sp" x="197.3" y="228.3" width="170.3" height="66.7"/>
<path class="tk" d="M205.041 295v1.5M222.243 295v1.5M239.445 295v1.5M256.647 295v1.5M273.849 295v1.5M291.051 295v1.5M308.253 295v1.5M325.455 295v1.5M342.657 295v1.5M359.859 295v1.5M197.3 294.452h-1.5M197.3 285.315h-1.5M197.3 276.178h-1.5M197.3 267.041h-1.5M197.3 257.904h-1.5M197.3 248.767h-1.5M197.3 239.63h-1.5M197.3 230.493h-1.5"/>
<path class="mt" d="M198.16 295v0.9M201.601 295v0.9M208.481 295v0.9M211.922 295v0.9M215.362 295v0.9M218.803 295v0.9M225.683 295v0.9M229.124 295v0.9M232.564 295v0.9M236.005 295v0.9M242.885 295v0.9M246.326 295v0.9M249.766 295v0.9M253.207 295v0.9M260.087 295v0.9M263.528 295v0.9M266.968 295v0.9M270.409 295v0.9M277.289 295v0.9M280.73 295v0.9M284.17 295v0.9M287.611 295v0.9M294.491 295v0.9M297.932 295v0.9M301.372 295v0.9M304.813 295v0.9M311.693 295v0.9M315.134 295v0.9M318.574 295v0.9M322.015 295v0.9M328.895 295v0.9M332.336 295v0.9M335.776 295v0.9M339.217 295v0.9M346.097 295v0.9M349.538 295v0.9M352.978 295v0.9M356.419 295v0.9M363.299 295v0.9M366.74 295v0.9M197.3 292.624h-0.9M197.3 290.797h-0.9M197.3 288.97h-0.9M197.3 287.142h-0.9M197.3 283.487h-0.9M197.3 281.66h-0.9M197.3 279.833h-0.9M197.3 278.005h-0.9M197.3 274.35h-0.9M197.3 272.523h-0.9M197.3 270.696h-0.9M197.3 268.868h-0.9M197.3 265.213h-0.9M197.3 263.386h-0.9M197.3 261.559h-0.9M197.3 259.731h-0.9M197.3 256.076h-0.9M197.3 254.249h-0.9M197.3 252.422h-0.9M197.3 250.594h-0.9M197.3 246.939h-0.9M197.3 245.112h-0.9M197.3 243.285h-0.9M197.3 241.457h-0.9M197.3 237.802h-0.9M197.3 235.975h-0.9M197.3 234.148h-0.9M197.3 232.32h-0.9M197.3 228.665h-0.9"/>
<text class="t" transform="translate(203.841 299.4) rotate(-45)" text-anchor="end">MSP</text>
<text class="t" transform="translate(221.043 299.4) rotate(-45)" text-anchor="end">ViM</text>
<text class="t" transform="translate(238.245 299.4) rotate(-45)" text-anchor="end">KNN</text>
<text class="t" transform="translate(255.447 299.4) rotate(-45)" text-anchor="end">ConfBranch</text>
<text class="t" transform="translate(272.649 299.4) rotate(-45)" text-anchor="end">LogitNorm</text>
<text class="t" transform="translate(289.851 299.4) rotate(-45)" text-anchor="end">G-ODIN</text>
<text class="t" transform="translate(307.053 299.4) rotate(-45)" text-anchor="end">OE</text>
<text class="t" transform="translate(324.255 299.4) rotate(-45)" text-anchor="end">MCD</text>
<text class="t" transform="translate(341.457 299.4) rotate(-45)" text-anchor="end">MCDropout</text>
<text class="t" transform="translate(358.659 299.4) rotate(-45)" text-anchor="end">TempScaling</text>
<rect class="lg" x="337.836" y="274.4" width="27.464" height="18.4" rx="0.6"/>
<path class="ln c0" d="M339.236 277.85H346.636"/>
<path class="eb c0" d="M342.936 275.85V279.85M341.236 275.85h3.4M341.236 279.85h3.4"/>
<circle class="f0" cx="342.936" cy="277.85" r="0.8"/>
<text class="lt" x="350.336" y="279.2">AID-7/3</text>
<path class="ln c1 d1" d="M339.236 283.6H346.636"/>
<path class="eb c1" d="M342.936 281.6V285.6M341.236 281.6h3.4M341.236 285.6h3.4"/>
<rect class="f1" x="342.216" y="282.88" width="1.44" height="1.44"/>
<text class="lt" x="350.336" y="284.95">AID-6/4</text>
<path class="ln c2 d2" d="M339.236 289.35H346.636"/>
<path class="eb c2" d="M342.936 287.35V291.35M341.236 287.35h3.4M341.236 291.35h3.4"/>
<path class="f2" d="M342.936 288.43L343.776 289.95H342.096Z"/>
<text class="lt" x="350.336" y="290.7">AID-5/5</text>
<path class="mi" d="M375.26 228.3V295M378.701 228.3V295M385.581 228.3V295M389.022 228.3V295M392.462 228.3V295M395.903 228.3V295M402.783 228.3V295M406.224 228.3V295M409.664 228.3V295M413.105 228.3V295M419.985 228.3V295M423.426 228.3V295M426.866 228.3V295M430.307 228.3V295M437.187 228.3V295M440.628 228.3V295M444.068 228.3V295M447.509 228.3V295M454.389 228.3V295M457.83 228.3V295M461.27 228.3V295M464.711 228.3V295M471.591 228.3V295M475.032 228.3V295M478.472 228.3V295M481.913 228.3V295M488.793 228.3V295M492.234 228.3V295M495.674 228.3V295M499.115 228.3V295M505.995 228.3V295M509.436 228.3V295M512.876 228.3V295M516.317 228.3V295M523.197 228.3V295M526.638 228.3V295M530.078 228.3V295M533.519 228.3V295M540.399 228.3V295M543.84 228.3V295M374.4 292.624H544.7M374.4 290.797H544.7M374.4 288.97H544.7M374.4 287.142H544.7M374.4 283.487H544.7M374.4 281.66H544.7M374.4 279.833H544.7M374.4 278.005H544.7M374.4 274.35H544.7M374.4 272.523H544.7M374.4 270.696H544.7M374.4 268.868H544.7M374.4 265.213H544.7M374.4 263.386H544.7M374.4 261.559H544.7M374.4 259.731H544.7M374.4 256.076H544.7M374.4 254.249H544.7M374.4 252.422H544.7M374.4 250.594H544.7M374.4 246.939H544.7M374.4 245.112H544.7M374.4 243.285H544.7M374.4 241.457H544.7M374.4 237.802H544.7M374.4 235.975H544.7M374.4 234.148H544.7M374.4 232.32H544.7M374.4 228.665H544.7"/>
<path class="ma" d="M382.141 228.3V295M399.343 228.3V295M416.545 228.3V295M433.747 228.3V295M450.949 228.3V295M468.151 228.3V295M485.353 228.3V295M502.555 228.3V295M519.757 228.3V295M536.959 228.3V295M374.4 294.452H544.7M374.4 285.315H544.7M374.4 276.178H544.7M374.4 267.041H544.7M374.4 257.904H544.7M374.4 248.767H544.7M374.4 239.63H544.7M374.4 230.493H544.7"/>
<path class="eb c0" d="M382.141 245.179V249.979M380.441 245.179h3.4M380.441 249.979h3.4M399.343 242.164V246.964M397.643 242.164h3.4M397.643 246.964h3.4M416.545 240.154V244.954M414.845 240.154h3.4M414.845 244.954h3.4M433.747 266.285V271.085M432.047 266.285h3.4M432.047 271.085h3.4M450.949 236.864V241.664M449.249 236.864h3.4M449.249 241.664h3.4M468.151 269.301V274.101M466.451 269.301h3.4M466.451 274.101h3.4M485.353 247.646V252.446M483.653 247.646h3.4M483.653 252.446h3.4M502.555 250.204V255.004M500.855 250.204h3.4M500.855 255.004h3.4M519.757 249.291V254.091M518.057 249.291h3.4M518.057 254.091h3.4M536.959 244.357V249.157M535.259 244.357h3.4M535.259 249.157h3.4"/>
<polyline class="ln c0" points="382.141,247.579 399.343,244.564 416.545,242.554 433.747,268.685 450.949,239.264 468.151,271.701 485.353,250.046 502.555,252.604 519.757,251.691 536.959,246.757"/>
<circle class="f0" cx="382.141" cy="247.579" r="0.8"/><circle class="f0" cx="399.343" cy="244.564" r="0.8"/><circle class="f0" cx="416.545" cy="242.554" r="0.8"/><circle class="f0" cx="433.747" cy="268.685" r="0.8"/><circle class="f0" cx="450.949" cy="239.264" r="0.8"/><circle class="f0" cx="468.151" cy="271.701" r="0.8"/><circle class="f0" cx="485.353" cy="250.046" r="0.8"/><circle class="f0" cx="502.555" cy="252.604" r="0.8"/><circle class="f0" cx="519.757" cy="251.691" r="0.8"/><circle class="f0" cx="536.959" cy="246.757" r="0.8"/>
<path class="eb c1" d="M382.141 238.875V243.675M380.441 238.875h3.4M380.441 243.675h3.4M399.343 239.423V244.223M397.643 239.423h3.4M397.643 244.223h3.4M416.545 240.154V244.954M414.845 240.154h3.4M414.845 244.954h3.4M433.747 258.15V265.15M432.047 258.15h3.4M432.047 265.15h3.4M450.949 235.22V240.02M449.249 235.22h3.4M449.249 240.02h3.4M468.151 255.961V260.761M466.451 255.961h3.4M466.451 260.761h3.4M485.353 240.976V245.776M483.653 240.976h3.4M483.653 245.776h3.4M502.555 244.357V249.157M500.855 244.357h3.4M500.855 249.157h3.4M519.757 242.712V247.512M518.057 242.712h3.4M518.057 247.512h3.4M536.959 239.423V244.223M535.259 239.423h3.4M535.259 244.223h3.4"/>
<polyline class="ln c1 d1" points="382.141,241.275 399.343,241.823 416.545,242.554 433.747,261.65 450.949,237.62 468.151,258.361 485.353,243.376 502.555,246.757 519.757,245.112 536.959,241.823"/>
<rect class="f1" x="381.421" y="240.555" width="1.44" height="1.44"/><rect class="f1" x="398.623" y="241.103" width="1.44" height="1.44"/><rect class="f1" x="415.825" y="241.834" width="1.44" height="1.44"/><rect class="f1" x="433.027" y="260.93" width="1.44" height="1.44"/><rect class="f1" x="450.229" y="236.9" width="1.44" height="1.44"/><rect class="f1" x="467.431" y="257.641" width="1.44" height="1.44"/><rect class="f1" x="484.633" y="242.656" width="1.44" height="1.44"/><rect class="f1" x="501.835" y="246.037" width="1.44" height="1.44"/><rect class="f1" x="519.037" y="244.392" width="1.44" height="1.44"/><rect class="f1" x="536.239" y="241.103" width="1.44" height="1.44"/>
<path class="eb c2" d="M382.141 233.849V238.649M380.441 233.849h3.4M380.441 238.649h3.4M399.343 234.397V239.197M397.643 234.397h3.4M397.643 239.197h3.4M416.545 236.864V241.664M414.845 236.864h3.4M414.845 241.664h3.4M433.747 251.571V258.571M432.047 251.571h3.4M432.047 258.571h3.4M450.949 234.397V239.197M449.249 234.397h3.4M449.249 239.197h3.4M468.151 247.646V252.446M466.451 247.646h3.4M466.451 252.446h3.4M485.353 233.849V238.649M483.653 233.849h3.4M483.653 238.649h3.4M502.555 236.59V241.39M500.855 236.59h3.4M500.855 241.39h3.4M519.757 236.133V240.933M518.057 236.133h3.4M518.057 240.933h3.4M536.959 233.575V238.375M535.259 233.575h3.4M535.259 238.375h3.4"/>
<polyline class="ln c2 d2" points="382.141,236.249 399.343,236.797 416.545,239.264 433.747,255.071 450.949,236.797 468.151,250.046 485.353,236.249 502.555,238.99 519.757,238.533 536.959,235.975"/>
<path class="f2" d="M382.141 235.329L382.981 236.849H381.301Z"/><path class="f2" d="M399.343 235.877L400.183 237.397H398.503Z"/><path class="f2" d="M416.545 238.344L417.385 239.864H415.705Z"/><path class="f2" d="M433.747 254.151L434.587 255.671H432.907Z"/><path class="f2" d="M450.949 235.877L451.789 237.397H450.109Z"/><path class="f2" d="M468.151 249.126L468.991 250.646H467.311Z"/><path class="f2" d="M485.353 235.329L486.193 236.849H484.513Z"/><path class="f2" d="M502.555 238.07L503.395 239.59H501.715Z"/><path class="f2" d="M519.757 237.613L520.597 239.133H518.917Z"/><path class="f2" d="M536.959 235.055L537.799 236.575H536.119Z"/>
<rect class="sp" x="374.4" y="228.3" width="170.3" height="66.7"/>
<path class="tk" d="M382.141 295v1.5M399.343 295v1.5M416.545 295v1.5M433.747 295v1.5M450.949 295v1.5M468.151 295v1.5M485.353 295v1.5M502.555 295v1.5M519.757 295v1.5M536.959 295v1.5M374.4 294.452h-1.5M374.4 285.315h-1.5M374.4 276.178h-1.5M374.4 267.041h-1.5M374.4 257.904h-1.5M374.4 248.767h-1.5M374.4 239.63h-1.5M374.4 230.493h-1.5"/>
<path class="mt" d="M375.26 295v0.9M378.701 295v0.9M385.581 295v0.9M389.022 295v0.9M392.462 295v0.9M395.903 295v0.9M402.783 295v0.9M406.224 295v0.9M409.664 295v0.9M413.105 295v0.9M419.985 295v0.9M423.426 295v0.9M426.866 295v0.9M430.307 295v0.9M437.187 295v0.9M440.628 295v0.9M444.068 295v0.9M447.509 295v0.9M454.389 295v0.9M457.83 295v0.9M461.27 295v0.9M464.711 295v0.9M471.591 295v0.9M475.032 295v0.9M478.472 295v0.9M481.913 295v0.9M488.793 295v0.9M492.234 295v0.9M495.674 295v0.9M499.115 295v0.9M505.995 295v0.9M509.436 295v0.9M512.876 295v0.9M516.317 295v0.9M523.197 295v0.9M526.638 295v0.9M530.078 295v0.9M533.519 295v0.9M540.399 295v0.9M543.84 295v0.9M374.4 292.624h-0.9M374.4 290.797h-0.9M374.4 288.97h-0.9M374.4 287.142h-0.9M374.4 283.487h-0.9M374.4 281.66h-0.9M374.4 279.833h-0.9M374.4 278.005h-0.9M374.4 274.35h-0.9M374.4 272.523h-0.9M374.4 270.696h-0.9M374.4 268.868h-0.9M374.4 265.213h-0.9M374.4 263.386h-0.9M374.4 261.559h-0.9M374.4 259.731h-0.9M374.4 256.076h-0.9M374.4 254.249h-0.9M374.4 252.422h-0.9M374.4 250.594h-0.9M374.4 246.939h-0.9M374.4 245.112h-0.9M374.4 243.285h-0.9M374.4 241.457h-0.9M374.4 237.802h-0.9M374.4 235.975h-0.9M374.4 234.148h-0.9M374.4 232.32h-0.9M374.4 228.665h-0.9"/>
<text class="t" transform="translate(380.941 299.4) rotate(-45)" text-anchor="end">MSP</text>
<text class="t" transform="translate(398.143 299.4) rotate(-45)" text-anchor="end">ViM</text>
<text class="t" transform="translate(415.345 299.4) rotate(-45)" text-anchor="end">KNN</text>
<text class="t" transform="translate(432.547 299.4) rotate(-45)" text-anchor="end">ConfBranch</text>
<text class="t" transform="translate(449.749 299.4) rotate(-45)" text-anchor="end">LogitNorm</text>
<text class="t" transform="translate(466.951 299.4) rotate(-45)" text-anchor="end">G-ODIN</text>
<text class="t" transform="translate(484.153 299.4) rotate(-45)" text-anchor="end">OE</text>
<text class="t" transform="translate(501.355 299.4) rotate(-45)" text-anchor="end">MCD</text>
<text class="t" transform="translate(518.557 299.4) rotate(-45)" text-anchor="end">MCDropout</text>
<text class="t" transform="translate(535.759 299.4) rotate(-45)" text-anchor="end">TempScaling</text>
<rect class="lg" x="506.623" y="274.4" width="35.777" height="18.4" rx="0.6"/>
<path class="ln c0" d="M508.023 277.85H515.423"/>
<path class="eb c0" d="M511.723 275.85V279.85M510.023 275.85h3.4M510.023 279.85h3.4"/>
<circle class="f0" cx="511.723" cy="277.85" r="0.8"/>
<text class="lt" x="519.123" y="279.2">EuroSAT-7/3</text>
<path class="ln c1 d1" d="M508.023 283.6H515.423"/>
<path class="eb c1" d="M511.723 281.6V285.6M510.023 281.6h3.4M510.023 285.6h3.4"/>
<rect class="f1" x="511.003" y="282.88" width="1.44" height="1.44"/>
<text class="lt" x="519.123" y="284.95">EuroSAT-6/4</text>
<path class="ln c2 d2" d="M508.023 289.35H515.423"/>
<path class="eb c2" d="M511.723 287.35V291.35M510.023 287.35h3.4M510.023 291.35h3.4"/>
<path class="f2" d="M511.723 288.43L512.563 289.95H510.883Z"/>
<text class="lt" x="519.123" y="290.7">EuroSAT-5/5</text>
<path class="mi" d="M21.96 336.2V402.8M25.398 336.2V402.8M32.275 336.2V402.8M35.713 336.2V402.8M39.152 336.2V402.8M42.59 336.2V402.8M49.467 336.2V402.8M52.905 336.2V402.8M56.343 336.2V402.8M59.782 336.2V402.8M66.659 336.2V402.8M70.097 336.2V402.8M73.535 336.2V402.8M76.974 336.2V402.8M83.851 336.2V402.8M87.289 336.2V402.8M90.727 336.2V402.8M94.166 336.2V402.8M101.042 336.2V402.8M104.481 336.2V402.8M107.919 336.2V402.8M111.358 336.2V402.8M118.234 336.2V402.8M121.673 336.2V402.8M125.111 336.2V402.8M128.549 336.2V402.8M135.426 336.2V402.8M138.865 336.2V402.8M142.303 336.2V402.8M145.741 336.2V402.8M152.618 336.2V402.8M156.057 336.2V402.8M159.495 336.2V402.8M162.933 336.2V402.8M169.81 336.2V402.8M173.248 336.2V402.8M176.687 336.2V402.8M180.125 336.2V402.8M187.002 336.2V402.8M190.44 336.2V402.8M21.1 400.554H191.3M21.1 397.911H191.3M21.1 395.268H191.3M21.1 389.982H191.3M21.1 387.339H191.3M21.1 384.696H191.3M21.1 382.054H191.3M21.1 376.768H191.3M21.1 374.125H191.3M21.1 371.482H191.3M21.1 368.839H191.3M21.1 363.554H191.3M21.1 360.911H191.3M21.1 358.268H191.3M21.1 355.625H191.3M21.1 350.339H191.3M21.1 347.696H191.3M21.1 345.054H191.3M21.1 342.411H191.3M21.1 337.125H191.3"/>
<path class="ma" d="M28.836 336.2V402.8M46.028 336.2V402.8M63.22 336.2V402.8M80.412 336.2V402.8M97.604 336.2V402.8M114.796 336.2V402.8M131.988 336.2V402.8M149.18 336.2V402.8M166.372 336.2V402.8M183.564 336.2V402.8M21.1 392.625H191.3M21.1 379.411H191.3M21.1 366.196H191.3M21.1 352.982H191.3M21.1 339.768H191.3"/>
<path class="eb c0" d="M28.836 339.479V345.079M27.136 339.479h3.4M27.136 345.079h3.4M46.028 340.271V345.871M44.328 340.271h3.4M44.328 345.871h3.4M63.22 339.479V345.079M61.52 339.479h3.4M61.52 345.079h3.4M80.412 366.436V372.036M78.712 366.436h3.4M78.712 372.036h3.4M97.604 340.8V346.4M95.904 340.8h3.4M95.904 346.4h3.4M114.796 356.129V361.729M113.096 356.129h3.4M113.096 361.729h3.4M131.988 340.8V346.4M130.288 340.8h3.4M130.288 346.4h3.4M149.18 348.596V354.196M147.48 348.596h3.4M147.48 354.196h3.4M166.372 340.8V346.4M164.672 340.8h3.4M164.672 346.4h3.4M183.564 340.8V346.4M181.864 340.8h3.4M181.864 346.4h3.4"/>
<polyline class="ln c0" points="28.836,342.279 46.028,343.071 63.22,342.279 80.412,369.236 97.604,343.6 114.796,358.929 131.988,343.6 149.18,351.396 166.372,343.6 183.564,343.6"/>
<circle class="f0" cx="28.836" cy="342.279" r="0.8"/><circle class="f0" cx="46.028" cy="343.071" r="0.8"/><circle class="f0" cx="63.22" cy="342.279" r="0.8"/><circle class="f0" cx="80.412" cy="369.236" r="0.8"/><circle class="f0" cx="97.604" cy="343.6" r="0.8"/><circle class="f0" cx="114.796" cy="358.929" r="0.8"/><circle class="f0" cx="131.988" cy="343.6" r="0.8"/><circle class="f0" cx="149.18" cy="351.396" r="0.8"/><circle class="f0" cx="166.372" cy="343.6" r="0.8"/><circle class="f0" cx="183.564" cy="343.6" r="0.8"/>
<path class="eb c1" d="M28.836 341.989V347.589M27.136 341.989h3.4M27.136 347.589h3.4M46.028 341.989V347.589M44.328 341.989h3.4M44.328 347.589h3.4M63.22 341.196V346.796M61.52 341.196h3.4M61.52 346.796h3.4M80.412 378.386V385.986M78.712 378.386h3.4M78.712 385.986h3.4M97.604 346.218V351.818M95.904 346.218h3.4M95.904 351.818h3.4M114.796 367.55V375.15M113.096 367.55h3.4M113.096 375.15h3.4M131.988 343.707V349.307M130.288 343.707h3.4M130.288 349.307h3.4M149.18 352.032V357.632M147.48 352.032h3.4M147.48 357.632h3.4M166.372 345.293V350.893M164.672 345.293h3.4M164.672 350.893h3.4M183.564 343.707V349.307M181.864 343.707h3.4M181.864 349.307h3.4"/>
<polyline class="ln c1 d1" points="28.836,344.789 46.028,344.789 63.22,343.996 80.412,382.186 97.604,349.018 114.796,371.35 131.988,346.507 149.18,354.832 166.372,348.093 183.564,346.507"/>
<rect class="f1" x="28.116" y="344.069" width="1.44" height="1.44"/><rect class="f1" x="45.308" y="344.069" width="1.44" height="1.44"/><rect class="f1" x="62.5" y="343.276" width="1.44" height="1.44"/><rect class="f1" x="79.692" y="381.466" width="1.44" height="1.44"/><rect class="f1" x="96.884" y="348.298" width="1.44" height="1.44"/><rect class="f1" x="114.076" y="370.63" width="1.44" height="1.44"/><rect class="f1" x="131.268" y="345.787" width="1.44" height="1.44"/><rect class="f1" x="148.46" y="354.112" width="1.44" height="1.44"/><rect class="f1" x="165.652" y="347.373" width="1.44" height="1.44"/><rect class="f1" x="182.844" y="345.787" width="1.44" height="1.44"/>
<path class="eb c2" d="M28.836 346.696V356.096M27.136 346.696h3.4M27.136 356.096h3.4M46.028 345.293V350.893M44.328 345.293h3.4M44.328 350.893h3.4M63.22 344.236V349.836M61.52 344.236h3.4M61.52 349.836h3.4M80.412 389.907V399.307M78.712 389.907h3.4M78.712 399.307h3.4M97.604 349.125V354.725M95.904 349.125h3.4M95.904 354.725h3.4M114.796 374.686V382.286M113.096 374.686h3.4M113.096 382.286h3.4M131.988 347.804V353.404M130.288 347.804h3.4M130.288 353.404h3.4M149.18 360.357V365.957M147.48 360.357h3.4M147.48 365.957h3.4M166.372 349.521V355.121M164.672 349.521h3.4M164.672 355.121h3.4M183.564 347.804V353.404M181.864 347.804h3.4M181.864 353.404h3.4"/>
<polyline class="ln c2 d2" points="28.836,351.396 46.028,348.093 63.22,347.036 80.412,394.607 97.604,351.925 114.796,378.486 131.988,350.604 149.18,363.157 166.372,352.321 183.564,350.604"/>
<path class="f2" d="M28.836 350.476L29.676 351.996H27.996Z"/><path class="f2" d="M46.028 347.173L46.868 348.693H45.188Z"/><path class="f2" d="M63.22 346.116L64.06 347.636H62.38Z"/><path class="f2" d="M80.412 393.687L81.252 395.207H79.572Z"/><path class="f2" d="M97.604 351.005L98.444 352.525H96.764Z"/><path class="f2" d="M114.796 377.566L115.636 379.086H113.956Z"/><path class="f2" d="M131.988 349.684L132.828 351.204H131.148Z"/><path class="f2" d="M149.18 362.237L150.02 363.757H148.34Z"/><path class="f2" d="M166.372 351.401L167.212 352.921H165.532Z"/><path class="f2" d="M183.564 349.684L184.404 351.204H182.724Z"/>
<rect class="sp" x="21.1" y="336.2" width="170.2" height="66.6"/>
<path class="tk" d="M28.836 402.8v1.5M46.028 402.8v1.5M63.22 402.8v1.5M80.412 402.8v1.5M97.604 402.8v1.5M114.796 402.8v1.5M131.988 402.8v1.5M149.18 402.8v1.5M166.372 402.8v1.5M183.564 402.8v1.5M21.1 392.625h-1.5M21.1 379.411h-1.5M21.1 366.196h-1.5M21.1 352.982h-1.5M21.1 339.768h-1.5"/>
<path class="mt" d="M21.96 402.8v0.9M25.398 402.8v0.9M32.275 402.8v0.9M35.713 402.8v0.9M39.152 402.8v0.9M42.59 402.8v0.9M49.467 402.8v0.9M52.905 402.8v0.9M56.343 402.8v0.9M59.782 402.8v0.9M66.659 402.8v0.9M70.097 402.8v0.9M73.535 402.8v0.9M76.974 402.8v0.9M83.851 402.8v0.9M87.289 402.8v0.9M90.727 402.8v0.9M94.166 402.8v0.9M101.042 402.8v0.9M104.481 402.8v0.9M107.919 402.8v0.9M111.358 402.8v0.9M118.234 402.8v0.9M121.673 402.8v0.9M125.111 402.8v0.9M128.549 402.8v0.9M135.426 402.8v0.9M138.865 402.8v0.9M142.303 402.8v0.9M145.741 402.8v0.9M152.618 402.8v0.9M156.057 402.8v0.9M159.495 402.8v0.9M162.933 402.8v0.9M169.81 402.8v0.9M173.248 402.8v0.9M176.687 402.8v0.9M180.125 402.8v0.9M187.002 402.8v0.9M190.44 402.8v0.9M21.1 400.554h-0.9M21.1 397.911h-0.9M21.1 395.268h-0.9M21.1 389.982h-0.9M21.1 387.339h-0.9M21.1 384.696h-0.9M21.1 382.054h-0.9M21.1 376.768h-0.9M21.1 374.125h-0.9M21.1 371.482h-0.9M21.1 368.839h-0.9M21.1 363.554h-0.9M21.1 360.911h-0.9M21.1 358.268h-0.9M21.1 355.625h-0.9M21.1 350.339h-0.9M21.1 347.696h-0.9M21.1 345.054h-0.9M21.1 342.411h-0.9M21.1 337.125h-0.9"/>
<text class="t" x="17.9" y="394.425" text-anchor="end">60</text>
<text class="t" x="17.9" y="381.211" text-anchor="end">70</text>
<text class="t" x="17.9" y="367.996" text-anchor="end">80</text>
<text class="t" x="17.9" y="354.782" text-anchor="end">90</text>
<text class="t" x="17.9" y="341.568" text-anchor="end">100</text>
<text class="t" transform="translate(27.636 407.2) rotate(-45)" text-anchor="end">MSP</text>
<text class="t" transform="translate(44.828 407.2) rotate(-45)" text-anchor="end">ViM</text>
<text class="t" transform="translate(62.02 407.2) rotate(-45)" text-anchor="end">KNN</text>
<text class="t" transform="translate(79.212 407.2) rotate(-45)" text-anchor="end">ConfBranch</text>
<text class="t" transform="translate(96.404 407.2) rotate(-45)" text-anchor="end">LogitNorm</text>
<text class="t" transform="translate(113.596 407.2) rotate(-45)" text-anchor="end">G-ODIN</text>
<text class="t" transform="translate(130.788 407.2) rotate(-45)" text-anchor="end">OE</text>
<text class="t" transform="translate(147.98 407.2) rotate(-45)" text-anchor="end">MCD</text>
<text class="t" transform="translate(165.172 407.2) rotate(-45)" text-anchor="end">MCDropout</text>
<text class="t" transform="translate(182.364 407.2) rotate(-45)" text-anchor="end">TempScaling</text>
<rect class="lg" x="159.567" y="382.2" width="29.433" height="18.4" rx="0.6"/>
<path class="ln c0" d="M160.967 385.65H168.367"/>
<path class="eb c0" d="M164.667 383.65V387.65M162.967 383.65h3.4M162.967 387.65h3.4"/>
<circle class="f0" cx="164.667" cy="385.65" r="0.8"/>
<text class="lt" x="172.067" y="387">UCM-7/3</text>
<path class="ln c1 d1" d="M160.967 391.4H168.367"/>
<path class="eb c1" d="M164.667 389.4V393.4M162.967 389.4h3.4M162.967 393.4h3.4"/>
<rect class="f1" x="163.947" y="390.68" width="1.44" height="1.44"/>
<text class="lt" x="172.067" y="392.75">UCM-6/4</text>
<path class="ln c2 d2" d="M160.967 397.15H168.367"/>
<path class="eb c2" d="M164.667 395.15V399.15M162.967 395.15h3.4M162.967 399.15h3.4"/>
<path class="f2" d="M164.667 396.23L165.507 397.75H163.827Z"/>
<text class="lt" x="172.067" y="398.5">UCM-5/5</text>
<path class="mi" d="M198.16 336.2V402.8M201.601 336.2V402.8M208.481 336.2V402.8M211.922 336.2V402.8M215.362 336.2V402.8M218.803 336.2V402.8M225.683 336.2V402.8M229.124 336.2V402.8M232.564 336.2V402.8M236.005 336.2V402.8M242.885 336.2V402.8M246.326 336.2V402.8M249.766 336.2V402.8M253.207 336.2V402.8M260.087 336.2V402.8M263.528 336.2V402.8M266.968 336.2V402.8M270.409 336.2V402.8M277.289 336.2V402.8M280.73 336.2V402.8M284.17 336.2V402.8M287.611 336.2V402.8M294.491 336.2V402.8M297.932 336.2V402.8M301.372 336.2V402.8M304.813 336.2V402.8M311.693 336.2V402.8M315.134 336.2V402.8M318.574 336.2V402.8M322.015 336.2V402.8M328.895 336.2V402.8M332.336 336.2V402.8M335.776 336.2V402.8M339.217 336.2V402.8M346.097 336.2V402.8M349.538 336.2V402.8M352.978 336.2V402.8M356.419 336.2V402.8M363.299 336.2V402.8M366.74 336.2V402.8M197.3 400.554H367.6M197.3 397.911H367.6M197.3 395.268H367.6M197.3 389.982H367.6M197.3 387.339H367.6M197.3 384.696H367.6M197.3 382.054H367.6M197.3 376.768H367.6M197.3 374.125H367.6M197.3 371.482H367.6M197.3 368.839H367.6M197.3 363.554H367.6M197.3 360.911H367.6M197.3 358.268H367.6M197.3 355.625H367.6M197.3 350.339H367.6M197.3 347.696H367.6M197.3 345.054H367.6M197.3 342.411H367.6M197.3 337.125H367.6"/>
<path class="ma" d="M205.041 336.2V402.8M222.243 336.2V402.8M239.445 336.2V402.8M256.647 336.2V402.8M273.849 336.2V402.8M291.051 336.2V402.8M308.253 336.2V402.8M325.455 336.2V402.8M342.657 336.2V402.8M359.859 336.2V402.8M197.3 392.625H367.6M197.3 379.411H367.6M197.3 366.196H367.6M197.3 352.982H367.6M197.3 339.768H367.6"/>
<path class="eb c0" d="M205.041 340.536V346.136M203.341 340.536h3.4M203.341 346.136h3.4M222.243 339.875V345.475M220.543 339.875h3.4M220.543 345.475h3.4M239.445 339.175V346.175M237.745 339.175h3.4M237.745 346.175h3.4M256.647 364.546V371.546M254.947 364.546h3.4M254.947 371.546h3.4M273.849 341.461V347.061M272.149 341.461h3.4M272.149 347.061h3.4M291.051 347.539V353.139M289.351 347.539h3.4M289.351 353.139h3.4M308.253 340.271V345.871M306.553 340.271h3.4M306.553 345.871h3.4M325.455 342.782V348.382M323.755 342.782h3.4M323.755 348.382h3.4M342.657 340.271V345.871M340.957 340.271h3.4M340.957 345.871h3.4M359.859 339.479V345.079M358.159 339.479h3.4M358.159 345.079h3.4"/>
<polyline class="ln c0" points="205.041,343.336 222.243,342.675 239.445,342.675 256.647,368.046 273.849,344.261 291.051,350.339 308.253,343.071 325.455,345.582 342.657,343.071 359.859,342.279"/>
<circle class="f0" cx="205.041" cy="343.336" r="0.8"/><circle class="f0" cx="222.243" cy="342.675" r="0.8"/><circle class="f0" cx="239.445" cy="342.675" r="0.8"/><circle class="f0" cx="256.647" cy="368.046" r="0.8"/><circle class="f0" cx="273.849" cy="344.261" r="0.8"/><circle class="f0" cx="291.051" cy="350.339" r="0.8"/><circle class="f0" cx="308.253" cy="343.071" r="0.8"/><circle class="f0" cx="325.455" cy="345.582" r="0.8"/><circle class="f0" cx="342.657" cy="343.071" r="0.8"/><circle class="f0" cx="359.859" cy="342.279" r="0.8"/>
<path class="eb c1" d="M205.041 342.811V349.411M203.341 342.811h3.4M203.341 349.411h3.4M222.243 341.989V347.589M220.543 341.989h3.4M220.543 347.589h3.4M239.445 342.518V348.118M237.745 342.518h3.4M237.745 348.118h3.4M256.647 376.082V381.682M254.947 376.082h3.4M254.947 381.682h3.4M273.849 344.236V349.836M272.149 344.236h3.4M272.149 349.836h3.4M291.051 355.336V360.936M289.351 355.336h3.4M289.351 360.936h3.4M308.253 341.989V347.589M306.553 341.989h3.4M306.553 347.589h3.4M325.455 345.821V351.421M323.755 345.821h3.4M323.755 351.421h3.4M342.657 343.707V349.307M340.957 343.707h3.4M340.957 349.307h3.4M359.859 341.461V347.061M358.159 341.461h3.4M358.159 347.061h3.4"/>
<polyline class="ln c1 d1" points="205.041,346.111 222.243,344.789 239.445,345.318 256.647,378.882 273.849,347.036 291.051,358.136 308.253,344.789 325.455,348.621 342.657,346.507 359.859,344.261"/>
<rect class="f1" x="204.321" y="345.391" width="1.44" height="1.44"/><rect class="f1" x="221.523" y="344.069" width="1.44" height="1.44"/><rect class="f1" x="238.725" y="344.598" width="1.44" height="1.44"/><rect class="f1" x="255.927" y="378.162" width="1.44" height="1.44"/><rect class="f1" x="273.129" y="346.316" width="1.44" height="1.44"/><rect class="f1" x="290.331" y="357.416" width="1.44" height="1.44"/><rect class="f1" x="307.533" y="344.069" width="1.44" height="1.44"/><rect class="f1" x="324.735" y="347.901" width="1.44" height="1.44"/><rect class="f1" x="341.937" y="345.787" width="1.44" height="1.44"/><rect class="f1" x="359.139" y="343.541" width="1.44" height="1.44"/>
<path class="eb c2" d="M205.041 343.971V349.571M203.341 343.971h3.4M203.341 349.571h3.4M222.243 344.5V350.1M220.543 344.5h3.4M220.543 350.1h3.4M239.445 345.954V351.554M237.745 345.954h3.4M237.745 351.554h3.4M256.647 387.011V394.011M254.947 387.011h3.4M254.947 394.011h3.4M273.849 345.954V351.554M272.149 345.954h3.4M272.149 351.554h3.4M291.051 362.661V370.261M289.351 362.661h3.4M289.351 370.261h3.4M308.253 345.293V350.893M306.553 345.293h3.4M306.553 350.893h3.4M325.455 349.125V354.725M323.755 349.125h3.4M323.755 354.725h3.4M342.657 347.011V352.611M340.957 347.011h3.4M340.957 352.611h3.4M359.859 344.764V350.364M358.159 344.764h3.4M358.159 350.364h3.4"/>
<polyline class="ln c2 d2" points="205.041,346.771 222.243,347.3 239.445,348.754 256.647,390.511 273.849,348.754 291.051,366.461 308.253,348.093 325.455,351.925 342.657,349.811 359.859,347.564"/>
<path class="f2" d="M205.041 345.851L205.881 347.371H204.201Z"/><path class="f2" d="M222.243 346.38L223.083 347.9H221.403Z"/><path class="f2" d="M239.445 347.834L240.285 349.354H238.605Z"/><path class="f2" d="M256.647 389.591L257.487 391.111H255.807Z"/><path class="f2" d="M273.849 347.834L274.689 349.354H273.009Z"/><path class="f2" d="M291.051 365.541L291.891 367.061H290.211Z"/><path class="f2" d="M308.253 347.173L309.093 348.693H307.413Z"/><path class="f2" d="M325.455 351.005L326.295 352.525H324.615Z"/><path class="f2" d="M342.657 348.891L343.497 350.411H341.817Z"/><path class="f2" d="M359.859 346.644L360.699 348.164H359.019Z"/>
<rect class="sp" x="197.3" y="336.2" width="170.3" height="66.6"/>
<path class="tk" d="M205.041 402.8v1.5M222.243 402.8v1.5M239.445 402.8v1.5M256.647 402.8v1.5M273.849 402.8v1.5M291.051 402.8v1.5M308.253 402.8v1.5M325.455 402.8v1.5M342.657 402.8v1.5M359.859 402.8v1.5M197.3 392.625h-1.5M197.3 379.411h-1.5M197.3 366.196h-1.5M197.3 352.982h-1.5M197.3 339.768h-1.5"/>
<path class="mt" d="M198.16 402.8v0.9M201.601 402.8v0.9M208.481 402.8v0.9M211.922 402.8v0.9M215.362 402.8v0.9M218.803 402.8v0.9M225.683 402.8v0.9M229.124 402.8v0.9M232.564 402.8v0.9M236.005 402.8v0.9M242.885 402.8v0.9M246.326 402.8v0.9M249.766 402.8v0.9M253.207 402.8v0.9M260.087 402.8v0.9M263.528 402.8v0.9M266.968 402.8v0.9M270.409 402.8v0.9M277.289 402.8v0.9M280.73 402.8v0.9M284.17 402.8v0.9M287.611 402.8v0.9M294.491 402.8v0.9M297.932 402.8v0.9M301.372 402.8v0.9M304.813 402.8v0.9M311.693 402.8v0.9M315.134 402.8v0.9M318.574 402.8v0.9M322.015 402.8v0.9M328.895 402.8v0.9M332.336 402.8v0.9M335.776 402.8v0.9M339.217 402.8v0.9M346.097 402.8v0.9M349.538 402.8v0.9M352.978 402.8v0.9M356.419 402.8v0.9M363.299 402.8v0.9M366.74 402.8v0.9M197.3 400.554h-0.9M197.3 397.911h-0.9M197.3 395.268h-0.9M197.3 389.982h-0.9M197.3 387.339h-0.9M197.3 384.696h-0.9M197.3 382.054h-0.9M197.3 376.768h-0.9M197.3 374.125h-0.9M197.3 371.482h-0.9M197.3 368.839h-0.9M197.3 363.554h-0.9M197.3 360.911h-0.9M197.3 358.268h-0.9M197.3 355.625h-0.9M197.3 350.339h-0.9M197.3 347.696h-0.9M197.3 345.054h-0.9M197.3 342.411h-0.9M197.3 337.125h-0.9"/>
<text class="t" transform="translate(203.841 407.2) rotate(-45)" text-anchor="end">MSP</text>
<text class="t" transform="translate(221.043 407.2) rotate(-45)" text-anchor="end">ViM</text>
<text class="t" transform="translate(238.245 407.2) rotate(-45)" text-anchor="end">KNN</text>
<text class="t" transform="translate(255.447 407.2) rotate(-45)" text-anchor="end">ConfBranch</text>
<text class="t" transform="translate(272.649 407.2) rotate(-45)" text-anchor="end">LogitNorm</text>
<text class="t" transform="translate(289.851 407.2) rotate(-45)" text-anchor="end">G-ODIN</text>
<text class="t" transform="translate(307.053 407.2) rotate(-45)" text-anchor="end">OE</text>
<text class="t" transform="translate(324.255 407.2) rotate(-45)" text-anchor="end">MCD</text>
<text class="t" transform="translate(341.457 407.2) rotate(-45)" text-anchor="end">MCDropout</text>
<text class="t" transform="translate(358.659 407.2) rotate(-45)" text-anchor="end">TempScaling</text>
<rect class="lg" x="337.836" y="382.2" width="27.464" height="18.4" rx="0.6"/>
<path class="ln c0" d="M339.236 385.65H346.636"/>
<path class="eb c0" d="M342.936 383.65V387.65M341.236 383.65h3.4M341.236 387.65h3.4"/>
<circle class="f0" cx="342.936" cy="385.65" r="0.8"/>
<text class="lt" x="350.336" y="387">AID-7/3</text>
<path class="ln c1 d1" d="M339.236 391.4H346.636"/>
<path class="eb c1" d="M342.936 389.4V393.4M341.236 389.4h3.4M341.236 393.4h3.4"/>
<rect class="f1" x="342.216" y="390.68" width="1.44" height="1.44"/>
<text class="lt" x="350.336" y="392.75">AID-6/4</text>
<path class="ln c2 d2" d="M339.236 397.15H346.636"/>
<path class="eb c2" d="M342.936 395.15V399.15M341.236 395.15h3.4M341.236 399.15h3.4"/>
<path class="f2" d="M342.936 396.23L343.776 397.75H342.096Z"/>
<text class="lt" x="350.336" y="398.5">AID-5/5</text>
<path class="mi" d="M375.26 336.2V402.8M378.701 336.2V402.8M385.581 336.2V402.8M389.022 336.2V402.8M392.462 336.2V402.8M395.903 336.2V402.8M402.783 336.2V402.8M406.224 336.2V402.8M409.664 336.2V402.8M413.105 336.2V402.8M419.985 336.2V402.8M423.426 336.2V402.8M426.866 336.2V402.8M430.307 336.2V402.8M437.187 336.2V402.8M440.628 336.2V402.8M444.068 336.2V402.8M447.509 336.2V402.8M454.389 336.2V402.8M457.83 336.2V402.8M461.27 336.2V402.8M464.711 336.2V402.8M471.591 336.2V402.8M475.032 336.2V402.8M478.472 336.2V402.8M481.913 336.2V402.8M488.793 336.2V402.8M492.234 336.2V402.8M495.674 336.2V402.8M499.115 336.2V402.8M505.995 336.2V402.8M509.436 336.2V402.8M512.876 336.2V402.8M516.317 336.2V402.8M523.197 336.2V402.8M526.638 336.2V402.8M530.078 336.2V402.8M533.519 336.2V402.8M540.399 336.2V402.8M543.84 336.2V402.8M374.4 400.554H544.7M374.4 397.911H544.7M374.4 395.268H544.7M374.4 389.982H544.7M374.4 387.339H544.7M374.4 384.696H544.7M374.4 382.054H544.7M374.4 376.768H544.7M374.4 374.125H544.7M374.4 371.482H544.7M374.4 368.839H544.7M374.4 363.554H544.7M374.4 360.911H544.7M374.4 358.268H544.7M374.4 355.625H544.7M374.4 350.339H544.7M374.4 347.696H544.7M374.4 345.054H544.7M374.4 342.411H544.7M374.4 337.125H544.7"/>
<path class="ma" d="M382.141 336.2V402.8M399.343 336.2V402.8M416.545 336.2V402.8M433.747 336.2V402.8M450.949 336.2V402.8M468.151 336.2V402.8M485.353 336.2V402.8M502.555 336.2V402.8M519.757 336.2V402.8M536.959 336.2V402.8M374.4 392.625H544.7M374.4 379.411H544.7M374.4 366.196H544.7M374.4 352.982H544.7M374.4 339.768H544.7"/>
<path class="eb c0" d="M382.141 343.179V348.779M380.441 343.179h3.4M380.441 348.779h3.4M399.343 339.611V345.211M397.643 339.611h3.4M397.643 345.211h3.4M416.545 340.536V346.136M414.845 340.536h3.4M414.845 346.136h3.4M433.747 357.45V363.05M432.047 357.45h3.4M432.047 363.05h3.4M450.949 340.271V345.871M449.249 340.271h3.4M449.249 345.871h3.4M468.151 356.129V361.729M466.451 356.129h3.4M466.451 361.729h3.4M485.353 343.707V349.307M483.653 343.707h3.4M483.653 349.307h3.4M502.555 346.614V352.214M500.855 346.614h3.4M500.855 352.214h3.4M519.757 342.518V348.118M518.057 342.518h3.4M518.057 348.118h3.4M536.959 344.236V349.836M535.259 344.236h3.4M535.259 349.836h3.4"/>
<polyline class="ln c0" points="382.141,345.979 399.343,342.411 416.545,343.336 433.747,360.25 450.949,343.071 468.151,358.929 485.353,346.507 502.555,349.414 519.757,345.318 536.959,347.036"/>
<circle class="f0" cx="382.141" cy="345.979" r="0.8"/><circle class="f0" cx="399.343" cy="342.411" r="0.8"/><circle class="f0" cx="416.545" cy="343.336" r="0.8"/><circle class="f0" cx="433.747" cy="360.25" r="0.8"/><circle class="f0" cx="450.949" cy="343.071" r="0.8"/><circle class="f0" cx="468.151" cy="358.929" r="0.8"/><circle class="f0" cx="485.353" cy="346.507" r="0.8"/><circle class="f0" cx="502.555" cy="349.414" r="0.8"/><circle class="f0" cx="519.757" cy="345.318" r="0.8"/><circle class="f0" cx="536.959" cy="347.036" r="0.8"/>
<path class="eb c1" d="M382.141 343.632V351.232M380.441 343.632h3.4M380.441 351.232h3.4M399.343 342.518V348.118M397.643 342.518h3.4M397.643 348.118h3.4M416.545 344.5V350.1M414.845 344.5h3.4M414.845 350.1h3.4M433.747 361.15V366.75M432.047 361.15h3.4M432.047 366.75h3.4M450.949 344.764V350.364M449.249 344.764h3.4M449.249 350.364h3.4M468.151 358.639V364.239M466.451 358.639h3.4M466.451 364.239h3.4M485.353 345.689V351.289M483.653 345.689h3.4M483.653 351.289h3.4M502.555 348.861V354.461M500.855 348.861h3.4M500.855 354.461h3.4M519.757 346.746V352.346M518.057 346.746h3.4M518.057 352.346h3.4M536.959 343.179V348.779M535.259 343.179h3.4M535.259 348.779h3.4"/>
<polyline class="ln c1 d1" points="382.141,347.432 399.343,345.318 416.545,347.3 433.747,363.95 450.949,347.564 468.151,361.439 485.353,348.489 502.555,351.661 519.757,349.546 536.959,345.979"/>
<rect class="f1" x="381.421" y="346.712" width="1.44" height="1.44"/><rect class="f1" x="398.623" y="344.598" width="1.44" height="1.44"/><rect class="f1" x="415.825" y="346.58" width="1.44" height="1.44"/><rect class="f1" x="433.027" y="363.23" width="1.44" height="1.44"/><rect class="f1" x="450.229" y="346.844" width="1.44" height="1.44"/><rect class="f1" x="467.431" y="360.719" width="1.44" height="1.44"/><rect class="f1" x="484.633" y="347.769" width="1.44" height="1.44"/><rect class="f1" x="501.835" y="350.941" width="1.44" height="1.44"/><rect class="f1" x="519.037" y="348.826" width="1.44" height="1.44"/><rect class="f1" x="536.239" y="345.259" width="1.44" height="1.44"/>
<path class="eb c2" d="M382.141 345.821V351.421M380.441 345.821h3.4M380.441 351.421h3.4M399.343 344.236V349.836M397.643 344.236h3.4M397.643 349.836h3.4M416.545 347.804V353.404M414.845 347.804h3.4M414.845 353.404h3.4M433.747 367.85V374.85M432.047 367.85h3.4M432.047 374.85h3.4M450.949 347.804V353.404M449.249 347.804h3.4M449.249 353.404h3.4M468.151 361.15V366.75M466.451 361.15h3.4M466.451 366.75h3.4M485.353 342.782V348.382M483.653 342.782h3.4M483.653 348.382h3.4M502.555 347.804V353.404M500.855 347.804h3.4M500.855 353.404h3.4M519.757 346.218V351.818M518.057 346.218h3.4M518.057 351.818h3.4M536.959 345.821V351.421M535.259 345.821h3.4M535.259 351.421h3.4"/>
<polyline class="ln c2 d2" points="382.141,348.621 399.343,347.036 416.545,350.604 433.747,371.35 450.949,350.604 468.151,363.95 485.353,345.582 502.555,350.604 519.757,349.018 536.959,348.621"/>
<path class="f2" d="M382.141 347.701L382.981 349.221H381.301Z"/><path class="f2" d="M399.343 346.116L400.183 347.636H398.503Z"/><path class="f2" d="M416.545 349.684L417.385 351.204H415.705Z"/><path class="f2" d="M433.747 370.43L434.587 371.95H432.907Z"/><path class="f2" d="M450.949 349.684L451.789 351.204H450.109Z"/><path class="f2" d="M468.151 363.03L468.991 364.55H467.311Z"/><path class="f2" d="M485.353 344.662L486.193 346.182H484.513Z"/><path class="f2" d="M502.555 349.684L503.395 351.204H501.715Z"/><path class="f2" d="M519.757 348.098L520.597 349.618H518.917Z"/><path class="f2" d="M536.959 347.701L537.799 349.221H536.119Z"/>
<rect class="sp" x="374.4" y="336.2" width="170.3" height="66.6"/>
<path class="tk" d="M382.141 402.8v1.5M399.343 402.8v1.5M416.545 402.8v1.5M433.747 402.8v1.5M450.949 402.8v1.5M468.151 402.8v1.5M485.353 402.8v1.5M502.555 402.8v1.5M519.757 402.8v1.5M536.959 402.8v1.5M374.4 392.625h-1.5M374.4 379.411h-1.5M374.4 366.196h-1.5M374.4 352.982h-1.5M374.4 339.768h-1.5"/>
<path class="mt" d="M375.26 402.8v0.9M378.701 402.8v0.9M385.581 402.8v0.9M389.022 402.8v0.9M392.462 402.8v0.9M395.903 402.8v0.9M402.783 402.8v0.9M406.224 402.8v0.9M409.664 402.8v0.9M413.105 402.8v0.9M419.985 402.8v0.9M423.426 402.8v0.9M426.866 402.8v0.9M430.307 402.8v0.9M437.187 402.8v0.9M440.628 402.8v0.9M444.068 402.8v0.9M447.509 402.8v0.9M454.389 402.8v0.9M457.83 402.8v0.9M461.27 402.8v0.9M464.711 402.8v0.9M471.591 402.8v0.9M475.032 402.8v0.9M478.472 402.8v0.9M481.913 402.8v0.9M488.793 402.8v0.9M492.234 402.8v0.9M495.674 402.8v0.9M499.115 402.8v0.9M505.995 402.8v0.9M509.436 402.8v0.9M512.876 402.8v0.9M516.317 402.8v0.9M523.197 402.8v0.9M526.638 402.8v0.9M530.078 402.8v0.9M533.519 402.8v0.9M540.399 402.8v0.9M543.84 402.8v0.9M374.4 400.554h-0.9M374.4 397.911h-0.9M374.4 395.268h-0.9M374.4 389.982h-0.9M374.4 387.339h-0.9M374.4 384.696h-0.9M374.4 382.054h-0.9M374.4 376.768h-0.9M374.4 374.125h-0.9M374.4 371.482h-0.9M374.4 368.839h-0.9M374.4 363.554h-0.9M374.4 360.911h-0.9M374.4 358.268h-0.9M374.4 355.625h-0.9M374.4 350.339h-0.9M374.4 347.696h-0.9M374.4 345.054h-0.9M374.4 342.411h-0.9M374.4 337.125h-0.9"/>
<text class="t" transform="translate(380.941 407.2) rotate(-45)" text-anchor="end">MSP</text>
<text class="t" transform="translate(398.143 407.2) rotate(-45)" text-anchor="end">ViM</text>
<text class="t" transform="translate(415.345 407.2) rotate(-45)" text-anchor="end">KNN</text>
<text class="t" transform="translate(432.547 407.2) rotate(-45)" text-anchor="end">ConfBranch</text>
<text class="t" transform="translate(449.749 407.2) rotate(-45)" text-anchor="end">LogitNorm</text>
<text class="t" transform="translate(466.951 407.2) rotate(-45)" text-anchor="end">G-ODIN</text>
<text class="t" transform="translate(484.153 407.2) rotate(-45)" text-anchor="end">OE</text>
<text class="t" transform="translate(501.355 407.2) rotate(-45)" text-anchor="end">MCD</text>
<text class="t" transform="translate(518.557 407.2) rotate(-45)" text-anchor="end">MCDropout</text>
<text class="t" transform="translate(535.759 407.2) rotate(-45)" text-anchor="end">TempScaling</text>
<rect class="lg" x="506.623" y="382.2" width="35.777" height="18.4" rx="0.6"/>
<path class="ln c0" d="M508.023 385.65H515.423"/>
<path class="eb c0" d="M511.723 383.65V387.65M510.023 383.65h3.4M510.023 387.65h3.4"/>
<circle class="f0" cx="511.723" cy="385.65" r="0.8"/>
<text class="lt" x="519.123" y="387">EuroSAT-7/3</text>
<path class="ln c1 d1" d="M508.023 391.4H515.423"/>
<path class="eb c1" d="M511.723 389.4V393.4M510.023 389.4h3.4M510.023 393.4h3.4"/>
<rect class="f1" x="511.003" y="390.68" width="1.44" height="1.44"/>
<text class="lt" x="519.123" y="392.75">EuroSAT-6/4</text>
<path class="ln c2 d2" d="M508.023 397.15H515.423"/>
<path class="eb c2" d="M511.723 395.15V399.15M510.023 395.15h3.4M510.023 399.15h3.4"/>
<path class="f2" d="M511.723 396.23L512.563 397.75H510.883Z"/>
<text class="lt" x="519.123" y="398.5">EuroSAT-5/5</text>
</g>
<g class="tg"><text class="l b" transform="translate(7.9 46.35) rotate(-90)" text-anchor="middle">FPR@95</text><text class="l b" x="104" y="106" text-anchor="middle">Method</text><text class="ti b" x="104" y="10" text-anchor="middle">Performance of FPR@95 on UCM</text><text class="l b" x="281.65" y="106" text-anchor="middle">Method</text><text class="ti b" x="281.65" y="10" text-anchor="middle">Performance of FPR@95 on AID</text><text class="l b" x="459" y="106" text-anchor="middle">Method</text><text class="ti b" x="459" y="10" text-anchor="middle">Performance of FPR@95 on EuroSAT</text><text class="l b" transform="translate(7.9 154.2) rotate(-90)" text-anchor="middle">AUROC</text><text class="l b" x="106.2" y="213.8" text-anchor="middle">Method</text><text class="ti b" x="106.2" y="117.9" text-anchor="middle">Performance of AUROC on UCM</text><text class="l b" x="282.45" y="213.8" text-anchor="middle">Method</text><text class="ti b" x="282.45" y="117.9" text-anchor="middle">Performance of AUROC on AID</text><text class="l b" x="459.55" y="213.8" text-anchor="middle">Method</text><text class="ti b" x="459.55" y="117.9" text-anchor="middle">Performance of AUROC on EuroSAT</text><text class="l b" transform="translate(7.9 261.95) rotate(-90)" text-anchor="middle">AUPR-IN</text><text class="l b" x="106" y="321.5" text-anchor="middle">Method</text><text class="ti b" x="106" y="225.7" text-anchor="middle">Performance of AUPR-IN on UCM</text><text class="l b" x="282.45" y="321.5" text-anchor="middle">Method</text><text class="ti b" x="282.45" y="225.7" text-anchor="middle">Performance of AUPR-IN on AID</text><text class="l b" x="459.55" y="321.5" text-anchor="middle">Method</text><text class="ti b" x="459.55" y="225.7" text-anchor="middle">Performance of AUPR-IN on EuroSAT</text><text class="l b" transform="translate(7.9 369.8) rotate(-90)" text-anchor="middle">AUPR-OUT</text><text class="l b" x="106.2" y="429.3" text-anchor="middle">Method</text><text class="ti b" x="106.2" y="333.6" text-anchor="middle">Performance of AUPR-OUT on UCM</text><text class="l b" x="282.45" y="429.3" text-anchor="middle">Method</text><text class="ti b" x="282.45" y="333.6" text-anchor="middle">Performance of AUPR-OUT on AID</text><text class="l b" x="459.55" y="429.3" text-anchor="middle">Method</text><text class="ti b" x="459.55" y="333.6" text-anchor="middle">Performance of AUPR-OUT on EuroSAT</text></g>
</svg>
</body></html>
